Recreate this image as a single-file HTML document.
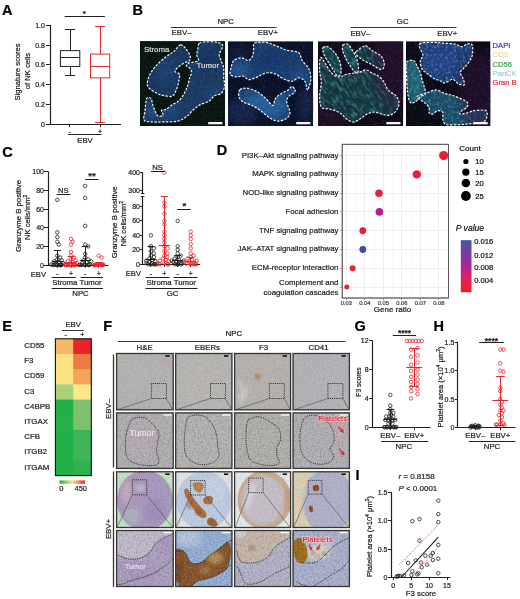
<!DOCTYPE html>
<html><head><meta charset="utf-8"><style>
html,body{margin:0;padding:0;background:#fff;width:520px;height:599px;overflow:hidden}
svg{display:block;font-family:'Liberation Sans', Arial, sans-serif}
</style></head><body>
<svg width="520" height="599" viewBox="0 0 520 599">
<text x="2.00" y="14.60" font-size="14.5" text-anchor="start" fill="#000" stroke="#000" stroke-width="0.22" font-weight="bold" >A</text>
<line x1="50.50" y1="24.90" x2="50.50" y2="124.80" stroke="#231f20" stroke-width="1.2" />
<line x1="49.90" y1="124.50" x2="121.00" y2="124.50" stroke="#231f20" stroke-width="1.2" />
<line x1="46.00" y1="25.50" x2="50.50" y2="25.50" stroke="#231f20" stroke-width="1" />
<text x="44.90" y="27.90" font-size="7" text-anchor="end" fill="#231f20" stroke="#231f20" stroke-width="0.22" >1.0</text>
<line x1="46.00" y1="45.50" x2="50.50" y2="45.50" stroke="#231f20" stroke-width="1" />
<text x="44.90" y="47.68" font-size="7" text-anchor="end" fill="#231f20" stroke="#231f20" stroke-width="0.22" >0.8</text>
<line x1="46.00" y1="64.50" x2="50.50" y2="64.50" stroke="#231f20" stroke-width="1" />
<text x="44.90" y="67.46" font-size="7" text-anchor="end" fill="#231f20" stroke="#231f20" stroke-width="0.22" >0.6</text>
<line x1="46.00" y1="84.50" x2="50.50" y2="84.50" stroke="#231f20" stroke-width="1" />
<text x="44.90" y="87.24" font-size="7" text-anchor="end" fill="#231f20" stroke="#231f20" stroke-width="0.22" >0.4</text>
<line x1="46.00" y1="104.50" x2="50.50" y2="104.50" stroke="#231f20" stroke-width="1" />
<text x="44.90" y="107.02" font-size="7" text-anchor="end" fill="#231f20" stroke="#231f20" stroke-width="0.22" >0.2</text>
<line x1="46.00" y1="124.50" x2="50.50" y2="124.50" stroke="#231f20" stroke-width="1" />
<text x="44.90" y="126.80" font-size="7" text-anchor="end" fill="#231f20" stroke="#231f20" stroke-width="0.22" >0</text>
<line x1="69.50" y1="124.30" x2="69.50" y2="127.30" stroke="#231f20" stroke-width="1" />
<line x1="100.50" y1="124.30" x2="100.50" y2="127.30" stroke="#231f20" stroke-width="1" />
<line x1="70.50" y1="29.85" x2="70.50" y2="50.62" stroke="#231f20" stroke-width="1" />
<line x1="70.50" y1="66.44" x2="70.50" y2="75.84" stroke="#231f20" stroke-width="1" />
<line x1="65.10" y1="29.50" x2="75.10" y2="29.50" stroke="#231f20" stroke-width="1" />
<line x1="65.10" y1="75.50" x2="75.10" y2="75.50" stroke="#231f20" stroke-width="1" />
<rect x="60.40" y="50.62" width="19.40" height="15.82" fill="none" stroke="#231f20" stroke-width="1" />
<line x1="60.40" y1="57.50" x2="79.80" y2="57.50" stroke="#231f20" stroke-width="1" />
<line x1="100.50" y1="26.88" x2="100.50" y2="54.08" stroke="#e6262e" stroke-width="1" />
<line x1="100.50" y1="77.82" x2="100.50" y2="122.32" stroke="#e6262e" stroke-width="1" />
<line x1="95.10" y1="26.50" x2="105.10" y2="26.50" stroke="#e6262e" stroke-width="1" />
<line x1="95.10" y1="122.50" x2="105.10" y2="122.50" stroke="#e6262e" stroke-width="1" />
<rect x="90.50" y="54.08" width="19.20" height="23.74" fill="none" stroke="#e6262e" stroke-width="1" />
<line x1="90.50" y1="66.50" x2="109.70" y2="66.50" stroke="#e6262e" stroke-width="1" />
<line x1="64.70" y1="16.50" x2="104.90" y2="16.50" stroke="#231f20" stroke-width="1" />
<text x="84.30" y="15.60" font-size="8" text-anchor="middle" fill="#231f20" stroke="#231f20" stroke-width="0.22" font-weight="bold" >*</text>
<text x="69.70" y="133.50" font-size="7" text-anchor="middle" fill="#231f20" stroke="#231f20" stroke-width="0.22" >-</text>
<text x="100.10" y="134.00" font-size="7" text-anchor="middle" fill="#231f20" stroke="#231f20" stroke-width="0.22" >+</text>
<line x1="68.00" y1="134.50" x2="101.50" y2="134.50" stroke="#231f20" stroke-width="1" />
<text x="85.00" y="142.60" font-size="7.8" text-anchor="middle" fill="#231f20" stroke="#231f20" stroke-width="0.22" >EBV</text>
<text transform="translate(20.20,72.00) rotate(-90)" font-size="7.6" text-anchor="middle" fill="#231f20" stroke="#231f20" stroke-width="0.22" >Signature scores</text>
<text transform="translate(29.80,71.00) rotate(-90)" font-size="7.6" text-anchor="middle" fill="#231f20" stroke="#231f20" stroke-width="0.22" >of NK cells</text>
<text x="2.30" y="156.60" font-size="14.5" text-anchor="start" fill="#000" stroke="#000" stroke-width="0.22" font-weight="bold" >C</text>
<line x1="48.50" y1="171.40" x2="48.50" y2="265.00" stroke="#231f20" stroke-width="1.2" />
<line x1="47.40" y1="265.50" x2="108.50" y2="265.50" stroke="#231f20" stroke-width="1.2" />
<line x1="44.00" y1="265.50" x2="48.00" y2="265.50" stroke="#231f20" stroke-width="1" />
<text x="44.00" y="267.50" font-size="7" text-anchor="end" fill="#231f20" stroke="#231f20" stroke-width="0.22" >0</text>
<line x1="44.00" y1="246.50" x2="48.00" y2="246.50" stroke="#231f20" stroke-width="1" />
<text x="44.00" y="248.88" font-size="7" text-anchor="end" fill="#231f20" stroke="#231f20" stroke-width="0.22" >20</text>
<line x1="44.00" y1="227.50" x2="48.00" y2="227.50" stroke="#231f20" stroke-width="1" />
<text x="44.00" y="230.26" font-size="7" text-anchor="end" fill="#231f20" stroke="#231f20" stroke-width="0.22" >40</text>
<line x1="44.00" y1="209.50" x2="48.00" y2="209.50" stroke="#231f20" stroke-width="1" />
<text x="44.00" y="211.64" font-size="7" text-anchor="end" fill="#231f20" stroke="#231f20" stroke-width="0.22" >60</text>
<line x1="44.00" y1="190.50" x2="48.00" y2="190.50" stroke="#231f20" stroke-width="1" />
<text x="44.00" y="193.02" font-size="7" text-anchor="end" fill="#231f20" stroke="#231f20" stroke-width="0.22" >80</text>
<line x1="44.00" y1="171.50" x2="48.00" y2="171.50" stroke="#231f20" stroke-width="1" />
<text x="44.00" y="174.40" font-size="7" text-anchor="end" fill="#231f20" stroke="#231f20" stroke-width="0.22" >100</text>
<line x1="57.50" y1="265.00" x2="57.50" y2="267.60" stroke="#231f20" stroke-width="1" />
<line x1="71.50" y1="265.00" x2="71.50" y2="267.60" stroke="#231f20" stroke-width="1" />
<line x1="85.50" y1="265.00" x2="85.50" y2="267.60" stroke="#231f20" stroke-width="1" />
<line x1="98.50" y1="265.00" x2="98.50" y2="267.60" stroke="#231f20" stroke-width="1" />
<circle cx="57.30" cy="199.83" r="1.75" fill="none" stroke="#231f20" stroke-width="0.8"/>
<circle cx="57.30" cy="232.41" r="1.75" fill="none" stroke="#231f20" stroke-width="0.8"/>
<circle cx="57.30" cy="237.07" r="1.75" fill="none" stroke="#231f20" stroke-width="0.8"/>
<circle cx="57.30" cy="241.72" r="1.75" fill="none" stroke="#231f20" stroke-width="0.8"/>
<circle cx="58.80" cy="244.52" r="1.75" fill="none" stroke="#231f20" stroke-width="0.8"/>
<circle cx="57.30" cy="255.69" r="1.75" fill="none" stroke="#231f20" stroke-width="0.8"/>
<circle cx="60.30" cy="257.55" r="1.75" fill="none" stroke="#231f20" stroke-width="0.8"/>
<circle cx="57.30" cy="259.41" r="1.75" fill="none" stroke="#231f20" stroke-width="0.8"/>
<circle cx="61.80" cy="260.35" r="1.75" fill="none" stroke="#231f20" stroke-width="0.8"/>
<circle cx="54.30" cy="261.28" r="1.75" fill="none" stroke="#231f20" stroke-width="0.8"/>
<circle cx="58.80" cy="262.21" r="1.75" fill="none" stroke="#231f20" stroke-width="0.8"/>
<circle cx="63.30" cy="263.14" r="1.75" fill="none" stroke="#231f20" stroke-width="0.8"/>
<circle cx="55.80" cy="264.07" r="1.75" fill="none" stroke="#231f20" stroke-width="0.8"/>
<circle cx="51.30" cy="264.53" r="1.75" fill="none" stroke="#231f20" stroke-width="0.8"/>
<circle cx="60.30" cy="265.00" r="1.75" fill="none" stroke="#231f20" stroke-width="0.8"/>
<circle cx="52.91" cy="265.00" r="1.75" fill="none" stroke="#231f20" stroke-width="0.8"/>
<circle cx="61.47" cy="265.00" r="1.75" fill="none" stroke="#231f20" stroke-width="0.8"/>
<circle cx="60.47" cy="265.00" r="1.75" fill="none" stroke="#231f20" stroke-width="0.8"/>
<circle cx="54.36" cy="265.00" r="1.75" fill="none" stroke="#231f20" stroke-width="0.8"/>
<circle cx="57.25" cy="265.00" r="1.75" fill="none" stroke="#231f20" stroke-width="0.8"/>
<circle cx="56.69" cy="265.00" r="1.75" fill="none" stroke="#231f20" stroke-width="0.8"/>
<circle cx="59.12" cy="265.00" r="1.75" fill="none" stroke="#231f20" stroke-width="0.8"/>
<circle cx="60.76" cy="265.00" r="1.75" fill="none" stroke="#231f20" stroke-width="0.8"/>
<circle cx="71.00" cy="238.93" r="1.75" fill="none" stroke="#e6262e" stroke-width="0.8"/>
<circle cx="72.50" cy="241.72" r="1.75" fill="none" stroke="#e6262e" stroke-width="0.8"/>
<circle cx="71.00" cy="244.52" r="1.75" fill="none" stroke="#e6262e" stroke-width="0.8"/>
<circle cx="71.00" cy="251.97" r="1.75" fill="none" stroke="#e6262e" stroke-width="0.8"/>
<circle cx="71.00" cy="255.69" r="1.75" fill="none" stroke="#e6262e" stroke-width="0.8"/>
<circle cx="74.00" cy="257.55" r="1.75" fill="none" stroke="#e6262e" stroke-width="0.8"/>
<circle cx="71.00" cy="259.41" r="1.75" fill="none" stroke="#e6262e" stroke-width="0.8"/>
<circle cx="75.50" cy="260.35" r="1.75" fill="none" stroke="#e6262e" stroke-width="0.8"/>
<circle cx="68.00" cy="261.28" r="1.75" fill="none" stroke="#e6262e" stroke-width="0.8"/>
<circle cx="72.50" cy="262.21" r="1.75" fill="none" stroke="#e6262e" stroke-width="0.8"/>
<circle cx="77.00" cy="263.14" r="1.75" fill="none" stroke="#e6262e" stroke-width="0.8"/>
<circle cx="69.50" cy="264.07" r="1.75" fill="none" stroke="#e6262e" stroke-width="0.8"/>
<circle cx="65.00" cy="264.07" r="1.75" fill="none" stroke="#e6262e" stroke-width="0.8"/>
<circle cx="66.61" cy="264.53" r="1.75" fill="none" stroke="#e6262e" stroke-width="0.8"/>
<circle cx="74.00" cy="265.00" r="1.75" fill="none" stroke="#e6262e" stroke-width="0.8"/>
<circle cx="75.17" cy="265.00" r="1.75" fill="none" stroke="#e6262e" stroke-width="0.8"/>
<circle cx="74.17" cy="265.00" r="1.75" fill="none" stroke="#e6262e" stroke-width="0.8"/>
<circle cx="68.06" cy="265.00" r="1.75" fill="none" stroke="#e6262e" stroke-width="0.8"/>
<circle cx="70.95" cy="265.00" r="1.75" fill="none" stroke="#e6262e" stroke-width="0.8"/>
<circle cx="70.39" cy="265.00" r="1.75" fill="none" stroke="#e6262e" stroke-width="0.8"/>
<circle cx="72.82" cy="265.00" r="1.75" fill="none" stroke="#e6262e" stroke-width="0.8"/>
<circle cx="74.46" cy="265.00" r="1.75" fill="none" stroke="#e6262e" stroke-width="0.8"/>
<circle cx="66.13" cy="265.00" r="1.75" fill="none" stroke="#e6262e" stroke-width="0.8"/>
<circle cx="65.34" cy="265.00" r="1.75" fill="none" stroke="#e6262e" stroke-width="0.8"/>
<circle cx="75.03" cy="265.00" r="1.75" fill="none" stroke="#e6262e" stroke-width="0.8"/>
<circle cx="70.19" cy="265.00" r="1.75" fill="none" stroke="#e6262e" stroke-width="0.8"/>
<circle cx="85.20" cy="185.87" r="1.75" fill="none" stroke="#231f20" stroke-width="0.8"/>
<circle cx="85.20" cy="197.97" r="1.75" fill="none" stroke="#231f20" stroke-width="0.8"/>
<circle cx="85.20" cy="225.90" r="1.75" fill="none" stroke="#231f20" stroke-width="0.8"/>
<circle cx="85.20" cy="244.52" r="1.75" fill="none" stroke="#231f20" stroke-width="0.8"/>
<circle cx="88.20" cy="246.38" r="1.75" fill="none" stroke="#231f20" stroke-width="0.8"/>
<circle cx="85.20" cy="253.83" r="1.75" fill="none" stroke="#231f20" stroke-width="0.8"/>
<circle cx="85.20" cy="257.55" r="1.75" fill="none" stroke="#231f20" stroke-width="0.8"/>
<circle cx="88.20" cy="259.41" r="1.75" fill="none" stroke="#231f20" stroke-width="0.8"/>
<circle cx="83.70" cy="260.35" r="1.75" fill="none" stroke="#231f20" stroke-width="0.8"/>
<circle cx="91.20" cy="261.28" r="1.75" fill="none" stroke="#231f20" stroke-width="0.8"/>
<circle cx="86.70" cy="262.21" r="1.75" fill="none" stroke="#231f20" stroke-width="0.8"/>
<circle cx="82.20" cy="263.14" r="1.75" fill="none" stroke="#231f20" stroke-width="0.8"/>
<circle cx="89.70" cy="264.07" r="1.75" fill="none" stroke="#231f20" stroke-width="0.8"/>
<circle cx="85.20" cy="265.00" r="1.75" fill="none" stroke="#231f20" stroke-width="0.8"/>
<circle cx="79.20" cy="265.00" r="1.75" fill="none" stroke="#231f20" stroke-width="0.8"/>
<circle cx="80.81" cy="265.00" r="1.75" fill="none" stroke="#231f20" stroke-width="0.8"/>
<circle cx="89.37" cy="265.00" r="1.75" fill="none" stroke="#231f20" stroke-width="0.8"/>
<circle cx="88.37" cy="265.00" r="1.75" fill="none" stroke="#231f20" stroke-width="0.8"/>
<circle cx="82.26" cy="265.00" r="1.75" fill="none" stroke="#231f20" stroke-width="0.8"/>
<circle cx="85.15" cy="265.00" r="1.75" fill="none" stroke="#231f20" stroke-width="0.8"/>
<circle cx="98.70" cy="255.69" r="1.75" fill="none" stroke="#e6262e" stroke-width="0.8"/>
<circle cx="101.70" cy="257.55" r="1.75" fill="none" stroke="#e6262e" stroke-width="0.8"/>
<circle cx="98.70" cy="264.07" r="1.75" fill="none" stroke="#e6262e" stroke-width="0.8"/>
<circle cx="103.20" cy="264.53" r="1.75" fill="none" stroke="#e6262e" stroke-width="0.8"/>
<circle cx="94.20" cy="265.00" r="1.75" fill="none" stroke="#e6262e" stroke-width="0.8"/>
<circle cx="94.31" cy="265.00" r="1.75" fill="none" stroke="#e6262e" stroke-width="0.8"/>
<circle cx="102.87" cy="265.00" r="1.75" fill="none" stroke="#e6262e" stroke-width="0.8"/>
<circle cx="101.87" cy="265.00" r="1.75" fill="none" stroke="#e6262e" stroke-width="0.8"/>
<circle cx="95.76" cy="265.00" r="1.75" fill="none" stroke="#e6262e" stroke-width="0.8"/>
<circle cx="98.65" cy="265.00" r="1.75" fill="none" stroke="#e6262e" stroke-width="0.8"/>
<circle cx="98.09" cy="265.00" r="1.75" fill="none" stroke="#e6262e" stroke-width="0.8"/>
<circle cx="100.52" cy="265.00" r="1.75" fill="none" stroke="#e6262e" stroke-width="0.8"/>
<circle cx="102.16" cy="265.00" r="1.75" fill="none" stroke="#e6262e" stroke-width="0.8"/>
<line x1="57.50" y1="250.10" x2="57.50" y2="265.00" stroke="#231f20" stroke-width="1" />
<line x1="51.80" y1="261.50" x2="62.80" y2="261.50" stroke="#231f20" stroke-width="1.1" />
<line x1="53.80" y1="250.50" x2="60.80" y2="250.50" stroke="#231f20" stroke-width="1" />
<line x1="53.80" y1="265.50" x2="60.80" y2="265.50" stroke="#231f20" stroke-width="1" />
<line x1="71.50" y1="256.62" x2="71.50" y2="265.00" stroke="#e6262e" stroke-width="1" />
<line x1="65.50" y1="262.50" x2="76.50" y2="262.50" stroke="#e6262e" stroke-width="1.1" />
<line x1="67.50" y1="256.50" x2="74.50" y2="256.50" stroke="#e6262e" stroke-width="1" />
<line x1="67.50" y1="265.50" x2="74.50" y2="265.50" stroke="#e6262e" stroke-width="1" />
<line x1="85.50" y1="246.38" x2="85.50" y2="265.00" stroke="#231f20" stroke-width="1" />
<line x1="79.70" y1="260.50" x2="90.70" y2="260.50" stroke="#231f20" stroke-width="1.1" />
<line x1="81.70" y1="246.50" x2="88.70" y2="246.50" stroke="#231f20" stroke-width="1" />
<line x1="81.70" y1="265.50" x2="88.70" y2="265.50" stroke="#231f20" stroke-width="1" />
<line x1="98.50" y1="262.21" x2="98.50" y2="265.00" stroke="#e6262e" stroke-width="1" />
<line x1="93.20" y1="264.50" x2="104.20" y2="264.50" stroke="#e6262e" stroke-width="1.1" />
<line x1="95.20" y1="262.50" x2="102.20" y2="262.50" stroke="#e6262e" stroke-width="1" />
<line x1="95.20" y1="265.50" x2="102.20" y2="265.50" stroke="#e6262e" stroke-width="1" />
<text x="63.20" y="192.70" font-size="7.6" text-anchor="middle" fill="#231f20" stroke="#231f20" stroke-width="0.22" >NS</text>
<line x1="56.70" y1="194.50" x2="70.50" y2="194.50" stroke="#231f20" stroke-width="1" />
<text x="91.90" y="178.60" font-size="9.5" text-anchor="middle" fill="#231f20" stroke="#231f20" stroke-width="0.22" font-weight="bold" >**</text>
<line x1="85.20" y1="179.50" x2="98.60" y2="179.50" stroke="#231f20" stroke-width="1" />
<text x="46.00" y="276.50" font-size="7.6" text-anchor="end" fill="#231f20" stroke="#231f20" stroke-width="0.22" >EBV</text>
<text x="57.30" y="276.00" font-size="7" text-anchor="middle" fill="#231f20" stroke="#231f20" stroke-width="0.22" >-</text>
<text x="71.00" y="276.00" font-size="7" text-anchor="middle" fill="#231f20" stroke="#231f20" stroke-width="0.22" >+</text>
<text x="85.20" y="276.00" font-size="7" text-anchor="middle" fill="#231f20" stroke="#231f20" stroke-width="0.22" >-</text>
<text x="98.70" y="276.00" font-size="7" text-anchor="middle" fill="#231f20" stroke="#231f20" stroke-width="0.22" >+</text>
<line x1="51.70" y1="277.50" x2="75.80" y2="277.50" stroke="#231f20" stroke-width="1" />
<line x1="80.60" y1="277.50" x2="103.00" y2="277.50" stroke="#231f20" stroke-width="1" />
<text x="52.30" y="285.30" font-size="7.8" text-anchor="start" fill="#231f20" stroke="#231f20" stroke-width="0.22" >Stroma Tumor</text>
<line x1="51.70" y1="288.50" x2="103.00" y2="288.50" stroke="#231f20" stroke-width="1" />
<text x="80.50" y="295.80" font-size="7.8" text-anchor="middle" fill="#231f20" stroke="#231f20" stroke-width="0.22" >NPC</text>
<text transform="translate(21.00,216.00) rotate(-90)" font-size="7.8" text-anchor="middle" fill="#231f20" stroke="#231f20" stroke-width="0.22" >Granzyme B positive</text>
<text transform="translate(30.20,217.30) rotate(-90)" font-size="7.6" text-anchor="middle" fill="#231f20" stroke="#231f20" stroke-width="0.22" >NK cells/mm<tspan font-size="5" dy="-3">2</tspan></text>
<line x1="142.50" y1="172.10" x2="142.50" y2="264.30" stroke="#231f20" stroke-width="1.2" />
<rect x="141.10" y="193.20" width="3.00" height="3.20" fill="#fff" stroke="none" stroke-width="1" />
<line x1="140.80" y1="193.50" x2="144.40" y2="193.50" stroke="#231f20" stroke-width="1" />
<line x1="140.80" y1="196.50" x2="144.40" y2="196.50" stroke="#231f20" stroke-width="1" />
<line x1="142.00" y1="264.50" x2="200.00" y2="264.50" stroke="#231f20" stroke-width="1.2" />
<line x1="140.10" y1="264.50" x2="142.60" y2="264.50" stroke="#231f20" stroke-width="1" />
<text x="140.00" y="266.80" font-size="7" text-anchor="end" fill="#231f20" stroke="#231f20" stroke-width="0.22" >0</text>
<line x1="140.10" y1="249.50" x2="142.60" y2="249.50" stroke="#231f20" stroke-width="1" />
<text x="140.00" y="252.33" font-size="7" text-anchor="end" fill="#231f20" stroke="#231f20" stroke-width="0.22" >20</text>
<line x1="140.10" y1="235.50" x2="142.60" y2="235.50" stroke="#231f20" stroke-width="1" />
<text x="140.00" y="237.85" font-size="7" text-anchor="end" fill="#231f20" stroke="#231f20" stroke-width="0.22" >40</text>
<line x1="140.10" y1="220.50" x2="142.60" y2="220.50" stroke="#231f20" stroke-width="1" />
<text x="140.00" y="223.38" font-size="7" text-anchor="end" fill="#231f20" stroke="#231f20" stroke-width="0.22" >60</text>
<line x1="140.10" y1="206.50" x2="142.60" y2="206.50" stroke="#231f20" stroke-width="1" />
<text x="140.00" y="208.90" font-size="7" text-anchor="end" fill="#231f20" stroke="#231f20" stroke-width="0.22" >80</text>
<line x1="140.10" y1="190.50" x2="142.60" y2="190.50" stroke="#231f20" stroke-width="1" />
<text x="140.00" y="192.50" font-size="7" text-anchor="end" fill="#231f20" stroke="#231f20" stroke-width="0.22" >300</text>
<line x1="140.10" y1="172.50" x2="142.60" y2="172.50" stroke="#231f20" stroke-width="1" />
<text x="140.00" y="175.10" font-size="7" text-anchor="end" fill="#231f20" stroke="#231f20" stroke-width="0.22" >400</text>
<line x1="150.50" y1="264.30" x2="150.50" y2="266.90" stroke="#231f20" stroke-width="1" />
<line x1="164.50" y1="264.30" x2="164.50" y2="266.90" stroke="#231f20" stroke-width="1" />
<line x1="177.50" y1="264.30" x2="177.50" y2="266.90" stroke="#231f20" stroke-width="1" />
<line x1="190.50" y1="264.30" x2="190.50" y2="266.90" stroke="#231f20" stroke-width="1" />
<circle cx="150.90" cy="235.35" r="1.75" fill="none" stroke="#231f20" stroke-width="0.8"/>
<circle cx="150.90" cy="246.21" r="1.75" fill="none" stroke="#231f20" stroke-width="0.8"/>
<circle cx="153.90" cy="248.38" r="1.75" fill="none" stroke="#231f20" stroke-width="0.8"/>
<circle cx="150.90" cy="251.27" r="1.75" fill="none" stroke="#231f20" stroke-width="0.8"/>
<circle cx="153.90" cy="253.44" r="1.75" fill="none" stroke="#231f20" stroke-width="0.8"/>
<circle cx="150.90" cy="255.62" r="1.75" fill="none" stroke="#231f20" stroke-width="0.8"/>
<circle cx="153.90" cy="257.06" r="1.75" fill="none" stroke="#231f20" stroke-width="0.8"/>
<circle cx="149.40" cy="258.51" r="1.75" fill="none" stroke="#231f20" stroke-width="0.8"/>
<circle cx="152.40" cy="259.96" r="1.75" fill="none" stroke="#231f20" stroke-width="0.8"/>
<circle cx="146.40" cy="260.68" r="1.75" fill="none" stroke="#231f20" stroke-width="0.8"/>
<circle cx="155.40" cy="261.41" r="1.75" fill="none" stroke="#231f20" stroke-width="0.8"/>
<circle cx="149.40" cy="262.13" r="1.75" fill="none" stroke="#231f20" stroke-width="0.8"/>
<circle cx="146.51" cy="262.85" r="1.75" fill="none" stroke="#231f20" stroke-width="0.8"/>
<circle cx="152.40" cy="263.58" r="1.75" fill="none" stroke="#231f20" stroke-width="0.8"/>
<circle cx="156.90" cy="264.30" r="1.75" fill="none" stroke="#231f20" stroke-width="0.8"/>
<circle cx="155.07" cy="264.30" r="1.75" fill="none" stroke="#231f20" stroke-width="0.8"/>
<circle cx="154.07" cy="264.30" r="1.75" fill="none" stroke="#231f20" stroke-width="0.8"/>
<circle cx="147.96" cy="264.30" r="1.75" fill="none" stroke="#231f20" stroke-width="0.8"/>
<circle cx="150.85" cy="264.30" r="1.75" fill="none" stroke="#231f20" stroke-width="0.8"/>
<circle cx="164.40" cy="172.60" r="1.75" fill="none" stroke="#e6262e" stroke-width="0.8"/>
<circle cx="164.40" cy="202.78" r="1.75" fill="none" stroke="#e6262e" stroke-width="0.8"/>
<circle cx="164.40" cy="206.40" r="1.75" fill="none" stroke="#e6262e" stroke-width="0.8"/>
<circle cx="164.40" cy="213.64" r="1.75" fill="none" stroke="#e6262e" stroke-width="0.8"/>
<circle cx="164.40" cy="220.88" r="1.75" fill="none" stroke="#e6262e" stroke-width="0.8"/>
<circle cx="164.40" cy="224.49" r="1.75" fill="none" stroke="#e6262e" stroke-width="0.8"/>
<circle cx="164.40" cy="231.73" r="1.75" fill="none" stroke="#e6262e" stroke-width="0.8"/>
<circle cx="164.40" cy="235.35" r="1.75" fill="none" stroke="#e6262e" stroke-width="0.8"/>
<circle cx="164.40" cy="238.97" r="1.75" fill="none" stroke="#e6262e" stroke-width="0.8"/>
<circle cx="164.40" cy="242.59" r="1.75" fill="none" stroke="#e6262e" stroke-width="0.8"/>
<circle cx="164.40" cy="246.21" r="1.75" fill="none" stroke="#e6262e" stroke-width="0.8"/>
<circle cx="167.40" cy="248.38" r="1.75" fill="none" stroke="#e6262e" stroke-width="0.8"/>
<circle cx="164.40" cy="251.27" r="1.75" fill="none" stroke="#e6262e" stroke-width="0.8"/>
<circle cx="167.40" cy="253.44" r="1.75" fill="none" stroke="#e6262e" stroke-width="0.8"/>
<circle cx="164.40" cy="255.62" r="1.75" fill="none" stroke="#e6262e" stroke-width="0.8"/>
<circle cx="167.40" cy="257.06" r="1.75" fill="none" stroke="#e6262e" stroke-width="0.8"/>
<circle cx="162.90" cy="258.51" r="1.75" fill="none" stroke="#e6262e" stroke-width="0.8"/>
<circle cx="165.90" cy="259.96" r="1.75" fill="none" stroke="#e6262e" stroke-width="0.8"/>
<circle cx="159.90" cy="260.68" r="1.75" fill="none" stroke="#e6262e" stroke-width="0.8"/>
<circle cx="168.90" cy="261.41" r="1.75" fill="none" stroke="#e6262e" stroke-width="0.8"/>
<circle cx="164.40" cy="262.85" r="1.75" fill="none" stroke="#e6262e" stroke-width="0.8"/>
<circle cx="158.40" cy="263.58" r="1.75" fill="none" stroke="#e6262e" stroke-width="0.8"/>
<circle cx="167.40" cy="264.30" r="1.75" fill="none" stroke="#e6262e" stroke-width="0.8"/>
<circle cx="160.01" cy="264.30" r="1.75" fill="none" stroke="#e6262e" stroke-width="0.8"/>
<circle cx="168.57" cy="264.30" r="1.75" fill="none" stroke="#e6262e" stroke-width="0.8"/>
<circle cx="177.70" cy="220.88" r="1.75" fill="none" stroke="#231f20" stroke-width="0.8"/>
<circle cx="177.70" cy="246.21" r="1.75" fill="none" stroke="#231f20" stroke-width="0.8"/>
<circle cx="177.70" cy="249.83" r="1.75" fill="none" stroke="#231f20" stroke-width="0.8"/>
<circle cx="177.70" cy="253.44" r="1.75" fill="none" stroke="#231f20" stroke-width="0.8"/>
<circle cx="180.70" cy="255.62" r="1.75" fill="none" stroke="#231f20" stroke-width="0.8"/>
<circle cx="177.70" cy="257.06" r="1.75" fill="none" stroke="#231f20" stroke-width="0.8"/>
<circle cx="174.70" cy="258.51" r="1.75" fill="none" stroke="#231f20" stroke-width="0.8"/>
<circle cx="179.20" cy="259.96" r="1.75" fill="none" stroke="#231f20" stroke-width="0.8"/>
<circle cx="183.70" cy="260.68" r="1.75" fill="none" stroke="#231f20" stroke-width="0.8"/>
<circle cx="171.70" cy="260.68" r="1.75" fill="none" stroke="#231f20" stroke-width="0.8"/>
<circle cx="176.20" cy="261.41" r="1.75" fill="none" stroke="#231f20" stroke-width="0.8"/>
<circle cx="173.31" cy="262.13" r="1.75" fill="none" stroke="#231f20" stroke-width="0.8"/>
<circle cx="180.70" cy="262.85" r="1.75" fill="none" stroke="#231f20" stroke-width="0.8"/>
<circle cx="181.87" cy="263.58" r="1.75" fill="none" stroke="#231f20" stroke-width="0.8"/>
<circle cx="177.70" cy="264.30" r="1.75" fill="none" stroke="#231f20" stroke-width="0.8"/>
<circle cx="180.87" cy="264.30" r="1.75" fill="none" stroke="#231f20" stroke-width="0.8"/>
<circle cx="174.76" cy="264.30" r="1.75" fill="none" stroke="#231f20" stroke-width="0.8"/>
<circle cx="177.65" cy="264.30" r="1.75" fill="none" stroke="#231f20" stroke-width="0.8"/>
<circle cx="190.70" cy="231.73" r="1.75" fill="none" stroke="#e6262e" stroke-width="0.8"/>
<circle cx="190.70" cy="235.35" r="1.75" fill="none" stroke="#e6262e" stroke-width="0.8"/>
<circle cx="190.70" cy="238.97" r="1.75" fill="none" stroke="#e6262e" stroke-width="0.8"/>
<circle cx="190.70" cy="244.03" r="1.75" fill="none" stroke="#e6262e" stroke-width="0.8"/>
<circle cx="190.70" cy="248.38" r="1.75" fill="none" stroke="#e6262e" stroke-width="0.8"/>
<circle cx="190.70" cy="253.44" r="1.75" fill="none" stroke="#e6262e" stroke-width="0.8"/>
<circle cx="193.70" cy="255.62" r="1.75" fill="none" stroke="#e6262e" stroke-width="0.8"/>
<circle cx="190.70" cy="257.06" r="1.75" fill="none" stroke="#e6262e" stroke-width="0.8"/>
<circle cx="187.70" cy="258.51" r="1.75" fill="none" stroke="#e6262e" stroke-width="0.8"/>
<circle cx="192.20" cy="259.96" r="1.75" fill="none" stroke="#e6262e" stroke-width="0.8"/>
<circle cx="196.70" cy="260.68" r="1.75" fill="none" stroke="#e6262e" stroke-width="0.8"/>
<circle cx="189.20" cy="261.41" r="1.75" fill="none" stroke="#e6262e" stroke-width="0.8"/>
<circle cx="184.70" cy="262.13" r="1.75" fill="none" stroke="#e6262e" stroke-width="0.8"/>
<circle cx="193.70" cy="262.85" r="1.75" fill="none" stroke="#e6262e" stroke-width="0.8"/>
<circle cx="186.31" cy="263.58" r="1.75" fill="none" stroke="#e6262e" stroke-width="0.8"/>
<circle cx="190.70" cy="264.30" r="1.75" fill="none" stroke="#e6262e" stroke-width="0.8"/>
<circle cx="196.70" cy="264.30" r="1.75" fill="none" stroke="#e6262e" stroke-width="0.8"/>
<circle cx="194.87" cy="264.30" r="1.75" fill="none" stroke="#e6262e" stroke-width="0.8"/>
<circle cx="193.87" cy="264.30" r="1.75" fill="none" stroke="#e6262e" stroke-width="0.8"/>
<line x1="150.50" y1="246.93" x2="150.50" y2="264.30" stroke="#231f20" stroke-width="1" />
<line x1="145.40" y1="259.50" x2="156.40" y2="259.50" stroke="#231f20" stroke-width="1.1" />
<line x1="147.40" y1="246.50" x2="154.40" y2="246.50" stroke="#231f20" stroke-width="1" />
<line x1="147.40" y1="264.50" x2="154.40" y2="264.50" stroke="#231f20" stroke-width="1" />
<line x1="164.50" y1="264.30" x2="164.50" y2="196.50" stroke="#e6262e" stroke-width="1" />
<line x1="158.90" y1="245.50" x2="169.90" y2="245.50" stroke="#e6262e" stroke-width="1.1" />
<line x1="160.90" y1="196.50" x2="167.90" y2="196.50" stroke="#e6262e" stroke-width="1" />
<line x1="177.50" y1="255.62" x2="177.50" y2="264.30" stroke="#231f20" stroke-width="1" />
<line x1="172.20" y1="260.50" x2="183.20" y2="260.50" stroke="#231f20" stroke-width="1.1" />
<line x1="174.20" y1="255.50" x2="181.20" y2="255.50" stroke="#231f20" stroke-width="1" />
<line x1="174.20" y1="264.50" x2="181.20" y2="264.50" stroke="#231f20" stroke-width="1" />
<line x1="190.50" y1="257.06" x2="190.50" y2="264.30" stroke="#e6262e" stroke-width="1" />
<line x1="185.20" y1="261.50" x2="196.20" y2="261.50" stroke="#e6262e" stroke-width="1.1" />
<line x1="187.20" y1="257.50" x2="194.20" y2="257.50" stroke="#e6262e" stroke-width="1" />
<line x1="187.20" y1="264.50" x2="194.20" y2="264.50" stroke="#e6262e" stroke-width="1" />
<text x="157.60" y="169.50" font-size="7.6" text-anchor="middle" fill="#231f20" stroke="#231f20" stroke-width="0.22" >NS</text>
<line x1="151.00" y1="171.50" x2="165.00" y2="171.50" stroke="#231f20" stroke-width="1" />
<text x="184.30" y="208.60" font-size="9.5" text-anchor="middle" fill="#231f20" stroke="#231f20" stroke-width="0.22" font-weight="bold" >*</text>
<line x1="177.00" y1="209.50" x2="190.70" y2="209.50" stroke="#231f20" stroke-width="1" />
<text x="141.00" y="276.30" font-size="7.6" text-anchor="end" fill="#231f20" stroke="#231f20" stroke-width="0.22" >EBV</text>
<text x="150.90" y="275.50" font-size="7" text-anchor="middle" fill="#231f20" stroke="#231f20" stroke-width="0.22" >-</text>
<text x="164.40" y="275.50" font-size="7" text-anchor="middle" fill="#231f20" stroke="#231f20" stroke-width="0.22" >+</text>
<text x="177.70" y="275.50" font-size="7" text-anchor="middle" fill="#231f20" stroke="#231f20" stroke-width="0.22" >-</text>
<text x="190.70" y="275.50" font-size="7" text-anchor="middle" fill="#231f20" stroke="#231f20" stroke-width="0.22" >+</text>
<line x1="145.50" y1="277.50" x2="169.50" y2="277.50" stroke="#231f20" stroke-width="1" />
<line x1="173.50" y1="277.50" x2="197.50" y2="277.50" stroke="#231f20" stroke-width="1" />
<text x="146.50" y="285.30" font-size="7.8" text-anchor="start" fill="#231f20" stroke="#231f20" stroke-width="0.22" >Stroma Tumor</text>
<line x1="145.50" y1="288.50" x2="197.50" y2="288.50" stroke="#231f20" stroke-width="1" />
<text x="172.50" y="295.80" font-size="7.8" text-anchor="middle" fill="#231f20" stroke="#231f20" stroke-width="0.22" >GC</text>
<text transform="translate(117.20,222.30) rotate(-90)" font-size="7.8" text-anchor="middle" fill="#231f20" stroke="#231f20" stroke-width="0.22" >Granzyme B positive</text>
<text transform="translate(126.40,223.60) rotate(-90)" font-size="7.6" text-anchor="middle" fill="#231f20" stroke="#231f20" stroke-width="0.22" >NK cells/mm<tspan font-size="5" dy="-3">2</tspan></text>
<text x="216.80" y="155.20" font-size="14.5" text-anchor="start" fill="#000" stroke="#000" stroke-width="0.22" font-weight="bold" >D</text>
<rect x="342.20" y="144.30" width="106.30" height="153.70" fill="#fff" stroke="#555" stroke-width="0.8" />
<line x1="346.50" y1="144.30" x2="346.50" y2="298.00" stroke="#e4e4e4" stroke-width="0.6" />
<line x1="364.50" y1="144.30" x2="364.50" y2="298.00" stroke="#e4e4e4" stroke-width="0.6" />
<line x1="383.50" y1="144.30" x2="383.50" y2="298.00" stroke="#e4e4e4" stroke-width="0.6" />
<line x1="401.50" y1="144.30" x2="401.50" y2="298.00" stroke="#e4e4e4" stroke-width="0.6" />
<line x1="420.50" y1="144.30" x2="420.50" y2="298.00" stroke="#e4e4e4" stroke-width="0.6" />
<line x1="438.50" y1="144.30" x2="438.50" y2="298.00" stroke="#e4e4e4" stroke-width="0.6" />
<line x1="355.50" y1="144.30" x2="355.50" y2="298.00" stroke="#f0f0f0" stroke-width="0.4" />
<line x1="374.50" y1="144.30" x2="374.50" y2="298.00" stroke="#f0f0f0" stroke-width="0.4" />
<line x1="392.50" y1="144.30" x2="392.50" y2="298.00" stroke="#f0f0f0" stroke-width="0.4" />
<line x1="411.50" y1="144.30" x2="411.50" y2="298.00" stroke="#f0f0f0" stroke-width="0.4" />
<line x1="429.50" y1="144.30" x2="429.50" y2="298.00" stroke="#f0f0f0" stroke-width="0.4" />
<line x1="342.20" y1="155.50" x2="448.50" y2="155.50" stroke="#e4e4e4" stroke-width="0.6" />
<line x1="342.20" y1="174.50" x2="448.50" y2="174.50" stroke="#e4e4e4" stroke-width="0.6" />
<line x1="342.20" y1="193.50" x2="448.50" y2="193.50" stroke="#e4e4e4" stroke-width="0.6" />
<line x1="342.20" y1="211.50" x2="448.50" y2="211.50" stroke="#e4e4e4" stroke-width="0.6" />
<line x1="342.20" y1="230.50" x2="448.50" y2="230.50" stroke="#e4e4e4" stroke-width="0.6" />
<line x1="342.20" y1="249.50" x2="448.50" y2="249.50" stroke="#e4e4e4" stroke-width="0.6" />
<line x1="342.20" y1="268.50" x2="448.50" y2="268.50" stroke="#e4e4e4" stroke-width="0.6" />
<line x1="342.20" y1="287.50" x2="448.50" y2="287.50" stroke="#e4e4e4" stroke-width="0.6" />
<rect x="342.20" y="144.30" width="106.30" height="153.70" fill="none" stroke="#555" stroke-width="0.8" />
<text x="338.40" y="157.50" font-size="7.8" text-anchor="end" fill="#262626" stroke="#262626" stroke-width="0.22" >PI3K–Akt signaling pathway</text>
<line x1="340.20" y1="155.50" x2="342.20" y2="155.50" stroke="#555" stroke-width="0.6" />
<text x="338.40" y="176.30" font-size="7.8" text-anchor="end" fill="#262626" stroke="#262626" stroke-width="0.22" >MAPK signaling pathway</text>
<line x1="340.20" y1="174.50" x2="342.20" y2="174.50" stroke="#555" stroke-width="0.6" />
<text x="338.40" y="195.10" font-size="7.8" text-anchor="end" fill="#262626" stroke="#262626" stroke-width="0.22" >NOD-like signaling pathway</text>
<line x1="340.20" y1="193.50" x2="342.20" y2="193.50" stroke="#555" stroke-width="0.6" />
<text x="338.40" y="213.80" font-size="7.8" text-anchor="end" fill="#262626" stroke="#262626" stroke-width="0.22" >Focal adhesion</text>
<line x1="340.20" y1="211.50" x2="342.20" y2="211.50" stroke="#555" stroke-width="0.6" />
<text x="338.40" y="232.60" font-size="7.8" text-anchor="end" fill="#262626" stroke="#262626" stroke-width="0.22" >TNF signaling pathway</text>
<line x1="340.20" y1="230.50" x2="342.20" y2="230.50" stroke="#555" stroke-width="0.6" />
<text x="338.40" y="251.40" font-size="7.8" text-anchor="end" fill="#262626" stroke="#262626" stroke-width="0.22" >JAK–ATAT signaling pathway</text>
<line x1="340.20" y1="249.50" x2="342.20" y2="249.50" stroke="#555" stroke-width="0.6" />
<text x="338.40" y="270.10" font-size="7.8" text-anchor="end" fill="#262626" stroke="#262626" stroke-width="0.22" >ECM-receptor interaction</text>
<line x1="340.20" y1="268.50" x2="342.20" y2="268.50" stroke="#555" stroke-width="0.6" />
<text x="338.40" y="285.30" font-size="7.8" text-anchor="end" fill="#262626" stroke="#262626" stroke-width="0.22" >Complement and</text>
<text x="338.40" y="295.00" font-size="7.8" text-anchor="end" fill="#262626" stroke="#262626" stroke-width="0.22" >coagulation cascades</text>
<line x1="340.20" y1="287.50" x2="342.20" y2="287.50" stroke="#555" stroke-width="0.6" />
<line x1="346.50" y1="298.00" x2="346.50" y2="300.00" stroke="#555" stroke-width="0.6" />
<text x="346.30" y="304.60" font-size="5.8" text-anchor="middle" fill="#444" stroke="#444" stroke-width="0.22" >0.03</text>
<line x1="364.50" y1="298.00" x2="364.50" y2="300.00" stroke="#555" stroke-width="0.6" />
<text x="364.80" y="304.60" font-size="5.8" text-anchor="middle" fill="#444" stroke="#444" stroke-width="0.22" >0.04</text>
<line x1="383.50" y1="298.00" x2="383.50" y2="300.00" stroke="#555" stroke-width="0.6" />
<text x="383.30" y="304.60" font-size="5.8" text-anchor="middle" fill="#444" stroke="#444" stroke-width="0.22" >0.05</text>
<line x1="401.50" y1="298.00" x2="401.50" y2="300.00" stroke="#555" stroke-width="0.6" />
<text x="401.80" y="304.60" font-size="5.8" text-anchor="middle" fill="#444" stroke="#444" stroke-width="0.22" >0.06</text>
<line x1="420.50" y1="298.00" x2="420.50" y2="300.00" stroke="#555" stroke-width="0.6" />
<text x="420.30" y="304.60" font-size="5.8" text-anchor="middle" fill="#444" stroke="#444" stroke-width="0.22" >0.07</text>
<line x1="438.50" y1="298.00" x2="438.50" y2="300.00" stroke="#555" stroke-width="0.6" />
<text x="438.80" y="304.60" font-size="5.8" text-anchor="middle" fill="#444" stroke="#444" stroke-width="0.22" >0.08</text>
<text x="392.50" y="311.80" font-size="8" text-anchor="middle" fill="#222" stroke="#222" stroke-width="0.22" >Gene ratio</text>
<circle cx="443.70" cy="155.60" r="4.60" fill="#e8202c" stroke="none" stroke-width="0.8"/>
<circle cx="416.80" cy="174.40" r="4.20" fill="#e5203a" stroke="none" stroke-width="0.8"/>
<circle cx="379.00" cy="193.20" r="3.80" fill="#e0204a" stroke="none" stroke-width="0.8"/>
<circle cx="379.40" cy="211.90" r="3.80" fill="#b81f93" stroke="none" stroke-width="0.8"/>
<circle cx="362.80" cy="230.70" r="3.40" fill="#e3213a" stroke="none" stroke-width="0.8"/>
<circle cx="362.80" cy="249.50" r="3.40" fill="#3c4aa5" stroke="none" stroke-width="0.8"/>
<circle cx="352.60" cy="268.20" r="3.00" fill="#e8222e" stroke="none" stroke-width="0.8"/>
<circle cx="346.80" cy="287.00" r="2.50" fill="#e8222e" stroke="none" stroke-width="0.8"/>
<text x="459.30" y="150.80" font-size="8" text-anchor="start" fill="#111" stroke="#111" stroke-width="0.22" >Count</text>
<circle cx="465.90" cy="161.50" r="2.60" fill="#000" stroke="none" stroke-width="0.8"/>
<text x="475.30" y="164.10" font-size="7.6" text-anchor="start" fill="#111" stroke="#111" stroke-width="0.22" >10</text>
<circle cx="465.90" cy="172.20" r="3.60" fill="#000" stroke="none" stroke-width="0.8"/>
<text x="475.30" y="174.80" font-size="7.6" text-anchor="start" fill="#111" stroke="#111" stroke-width="0.22" >15</text>
<circle cx="465.90" cy="183.00" r="4.30" fill="#000" stroke="none" stroke-width="0.8"/>
<text x="475.30" y="185.60" font-size="7.6" text-anchor="start" fill="#111" stroke="#111" stroke-width="0.22" >20</text>
<circle cx="465.90" cy="196.00" r="4.90" fill="#000" stroke="none" stroke-width="0.8"/>
<text x="475.30" y="198.60" font-size="7.6" text-anchor="start" fill="#111" stroke="#111" stroke-width="0.22" >25</text>
<defs><linearGradient id="pv" x1="0" y1="0" x2="0" y2="1"><stop offset="0" stop-color="#4455a6"/><stop offset="0.45" stop-color="#a4279a"/><stop offset="0.75" stop-color="#e0205a"/><stop offset="1" stop-color="#ec2027"/></linearGradient><linearGradient id="hm" x1="0" y1="0" x2="1" y2="0"><stop offset="0" stop-color="#1fad4b"/><stop offset="0.5" stop-color="#fde385"/><stop offset="1" stop-color="#e8232a"/></linearGradient></defs>
<text x="455.80" y="230.80" font-size="8.6" text-anchor="start" fill="#111" stroke="#111" stroke-width="0.22" font-style="italic" >P value</text>
<rect x="460.80" y="240.20" width="10.70" height="52.00" fill="url(#pv)" stroke="none" stroke-width="1" />
<text x="474.20" y="243.90" font-size="7.6" text-anchor="start" fill="#111" stroke="#111" stroke-width="0.22" >0.016</text>
<text x="474.20" y="257.60" font-size="7.6" text-anchor="start" fill="#111" stroke="#111" stroke-width="0.22" >0.012</text>
<text x="474.20" y="270.30" font-size="7.6" text-anchor="start" fill="#111" stroke="#111" stroke-width="0.22" >0.008</text>
<text x="474.20" y="283.10" font-size="7.6" text-anchor="start" fill="#111" stroke="#111" stroke-width="0.22" >0.004</text>
<text x="2.20" y="331.00" font-size="14.5" text-anchor="start" fill="#000" stroke="#000" stroke-width="0.22" font-weight="bold" >E</text>
<text x="73.20" y="326.90" font-size="7.8" text-anchor="middle" fill="#231f20" stroke="#231f20" stroke-width="0.22" >EBV</text>
<line x1="62.00" y1="330.50" x2="83.80" y2="330.50" stroke="#231f20" stroke-width="0.9" />
<text x="65.60" y="337.00" font-size="7" text-anchor="middle" fill="#231f20" stroke="#231f20" stroke-width="0.22" >-</text>
<text x="82.40" y="337.20" font-size="7" text-anchor="middle" fill="#231f20" stroke="#231f20" stroke-width="0.22" >+</text>
<rect x="55.40" y="338.80" width="18.80" height="16.20" fill="#f8b86a" stroke="none" stroke-width="1" />
<rect x="73.20" y="338.80" width="18.10" height="16.20" fill="#e8232a" stroke="none" stroke-width="1" />
<text x="24.30" y="347.90" font-size="7.9" text-anchor="start" fill="#231f20" stroke="#231f20" stroke-width="0.22" >CD55</text>
<rect x="55.40" y="354.00" width="18.80" height="16.20" fill="#fde284" stroke="none" stroke-width="1" />
<rect x="73.20" y="354.00" width="18.10" height="16.20" fill="#ef7a41" stroke="none" stroke-width="1" />
<text x="24.30" y="363.10" font-size="7.9" text-anchor="start" fill="#231f20" stroke="#231f20" stroke-width="0.22" >F3</text>
<rect x="55.40" y="369.20" width="18.80" height="16.20" fill="#fde284" stroke="none" stroke-width="1" />
<rect x="73.20" y="369.20" width="18.10" height="16.20" fill="#f5a45a" stroke="none" stroke-width="1" />
<text x="24.30" y="378.30" font-size="7.9" text-anchor="start" fill="#231f20" stroke="#231f20" stroke-width="0.22" >CD59</text>
<rect x="55.40" y="384.40" width="18.80" height="16.20" fill="#a9d17b" stroke="none" stroke-width="1" />
<rect x="73.20" y="384.40" width="18.10" height="16.20" fill="#fde789" stroke="none" stroke-width="1" />
<text x="24.30" y="393.50" font-size="7.9" text-anchor="start" fill="#231f20" stroke="#231f20" stroke-width="0.22" >C3</text>
<rect x="55.40" y="399.60" width="18.80" height="16.20" fill="#22b04b" stroke="none" stroke-width="1" />
<rect x="73.20" y="399.60" width="18.10" height="16.20" fill="#7dc36e" stroke="none" stroke-width="1" />
<text x="24.30" y="408.70" font-size="7.9" text-anchor="start" fill="#231f20" stroke="#231f20" stroke-width="0.22" >C4BPB</text>
<rect x="55.40" y="414.80" width="18.80" height="16.20" fill="#24b04b" stroke="none" stroke-width="1" />
<rect x="73.20" y="414.80" width="18.10" height="16.20" fill="#7cc26d" stroke="none" stroke-width="1" />
<text x="24.30" y="423.90" font-size="7.9" text-anchor="start" fill="#231f20" stroke="#231f20" stroke-width="0.22" >ITGAX</text>
<rect x="55.40" y="430.00" width="18.80" height="16.20" fill="#22b04b" stroke="none" stroke-width="1" />
<rect x="73.20" y="430.00" width="18.10" height="16.20" fill="#3db556" stroke="none" stroke-width="1" />
<text x="24.30" y="439.10" font-size="7.9" text-anchor="start" fill="#231f20" stroke="#231f20" stroke-width="0.22" >CFB</text>
<rect x="55.40" y="445.20" width="18.80" height="16.20" fill="#22b04b" stroke="none" stroke-width="1" />
<rect x="73.20" y="445.20" width="18.10" height="16.20" fill="#40b556" stroke="none" stroke-width="1" />
<text x="24.30" y="454.30" font-size="7.9" text-anchor="start" fill="#231f20" stroke="#231f20" stroke-width="0.22" >ITGB2</text>
<rect x="55.40" y="460.40" width="18.80" height="15.20" fill="#22b04b" stroke="none" stroke-width="1" />
<rect x="73.20" y="460.40" width="18.10" height="15.20" fill="#2eb250" stroke="none" stroke-width="1" />
<text x="24.30" y="469.50" font-size="7.9" text-anchor="start" fill="#231f20" stroke="#231f20" stroke-width="0.22" >ITGAM</text>
<rect x="55.40" y="338.80" width="35.90" height="136.80" fill="none" stroke="#111" stroke-width="1.1" />
<rect x="59.60" y="480.40" width="25.40" height="3.40" fill="url(#hm)" stroke="none" stroke-width="1" />
<text x="61.30" y="491.30" font-size="7.5" text-anchor="middle" fill="#231f20" stroke="#231f20" stroke-width="0.22" >0</text>
<text x="80.80" y="491.30" font-size="7.5" text-anchor="middle" fill="#231f20" stroke="#231f20" stroke-width="0.22" >450</text>
<text x="354.50" y="330.50" font-size="14.5" text-anchor="start" fill="#000" stroke="#000" stroke-width="0.22" font-weight="bold" >G</text>
<line x1="372.50" y1="340.40" x2="372.50" y2="427.20" stroke="#231f20" stroke-width="1.2" />
<line x1="371.60" y1="427.50" x2="430.50" y2="427.50" stroke="#231f20" stroke-width="1.2" />
<line x1="369.20" y1="427.50" x2="372.20" y2="427.50" stroke="#231f20" stroke-width="1" />
<text x="368.60" y="429.70" font-size="7" text-anchor="end" fill="#231f20" stroke="#231f20" stroke-width="0.22" >0</text>
<line x1="369.20" y1="398.50" x2="372.20" y2="398.50" stroke="#231f20" stroke-width="1" />
<text x="368.60" y="400.93" font-size="7" text-anchor="end" fill="#231f20" stroke="#231f20" stroke-width="0.22" >4</text>
<line x1="369.20" y1="369.50" x2="372.20" y2="369.50" stroke="#231f20" stroke-width="1" />
<text x="368.60" y="372.17" font-size="7" text-anchor="end" fill="#231f20" stroke="#231f20" stroke-width="0.22" >8</text>
<line x1="369.20" y1="340.50" x2="372.20" y2="340.50" stroke="#231f20" stroke-width="1" />
<text x="368.60" y="343.40" font-size="7" text-anchor="end" fill="#231f20" stroke="#231f20" stroke-width="0.22" >12</text>
<line x1="390.50" y1="427.20" x2="390.50" y2="429.80" stroke="#231f20" stroke-width="1" />
<line x1="414.50" y1="427.20" x2="414.50" y2="429.80" stroke="#231f20" stroke-width="1" />
<circle cx="390.30" cy="394.84" r="1.75" fill="none" stroke="#231f20" stroke-width="0.8"/>
<circle cx="390.30" cy="405.62" r="1.75" fill="none" stroke="#231f20" stroke-width="0.8"/>
<circle cx="390.30" cy="409.22" r="1.75" fill="none" stroke="#231f20" stroke-width="0.8"/>
<circle cx="390.30" cy="412.82" r="1.75" fill="none" stroke="#231f20" stroke-width="0.8"/>
<circle cx="393.30" cy="412.82" r="1.75" fill="none" stroke="#231f20" stroke-width="0.8"/>
<circle cx="391.30" cy="414.97" r="1.75" fill="none" stroke="#231f20" stroke-width="0.8"/>
<circle cx="389.30" cy="416.41" r="1.75" fill="none" stroke="#231f20" stroke-width="0.8"/>
<circle cx="393.30" cy="416.41" r="1.75" fill="none" stroke="#231f20" stroke-width="0.8"/>
<circle cx="386.30" cy="416.41" r="1.75" fill="none" stroke="#231f20" stroke-width="0.8"/>
<circle cx="390.30" cy="418.57" r="1.75" fill="none" stroke="#231f20" stroke-width="0.8"/>
<circle cx="392.30" cy="420.01" r="1.75" fill="none" stroke="#231f20" stroke-width="0.8"/>
<circle cx="388.30" cy="420.01" r="1.75" fill="none" stroke="#231f20" stroke-width="0.8"/>
<circle cx="395.30" cy="420.01" r="1.75" fill="none" stroke="#231f20" stroke-width="0.8"/>
<circle cx="385.30" cy="420.01" r="1.75" fill="none" stroke="#231f20" stroke-width="0.8"/>
<circle cx="390.30" cy="422.17" r="1.75" fill="none" stroke="#231f20" stroke-width="0.8"/>
<circle cx="392.30" cy="423.60" r="1.75" fill="none" stroke="#231f20" stroke-width="0.8"/>
<circle cx="388.30" cy="423.60" r="1.75" fill="none" stroke="#231f20" stroke-width="0.8"/>
<circle cx="390.30" cy="427.20" r="1.75" fill="none" stroke="#231f20" stroke-width="0.8"/>
<circle cx="393.30" cy="427.20" r="1.75" fill="none" stroke="#231f20" stroke-width="0.8"/>
<circle cx="387.30" cy="427.20" r="1.75" fill="none" stroke="#231f20" stroke-width="0.8"/>
<circle cx="396.30" cy="427.20" r="1.75" fill="none" stroke="#231f20" stroke-width="0.8"/>
<circle cx="384.30" cy="427.20" r="1.75" fill="none" stroke="#231f20" stroke-width="0.8"/>
<circle cx="384.82" cy="427.20" r="1.75" fill="none" stroke="#231f20" stroke-width="0.8"/>
<circle cx="395.51" cy="427.20" r="1.75" fill="none" stroke="#231f20" stroke-width="0.8"/>
<circle cx="394.26" cy="427.20" r="1.75" fill="none" stroke="#231f20" stroke-width="0.8"/>
<circle cx="386.63" cy="427.20" r="1.75" fill="none" stroke="#231f20" stroke-width="0.8"/>
<circle cx="390.23" cy="427.20" r="1.75" fill="none" stroke="#231f20" stroke-width="0.8"/>
<circle cx="417.50" cy="348.09" r="1.75" fill="none" stroke="#e6262e" stroke-width="0.8"/>
<circle cx="411.10" cy="349.53" r="1.75" fill="none" stroke="#e6262e" stroke-width="0.8"/>
<circle cx="417.50" cy="355.28" r="1.75" fill="none" stroke="#e6262e" stroke-width="0.8"/>
<circle cx="411.10" cy="356.72" r="1.75" fill="none" stroke="#e6262e" stroke-width="0.8"/>
<circle cx="417.50" cy="362.47" r="1.75" fill="none" stroke="#e6262e" stroke-width="0.8"/>
<circle cx="411.10" cy="364.63" r="1.75" fill="none" stroke="#e6262e" stroke-width="0.8"/>
<circle cx="417.50" cy="369.67" r="1.75" fill="none" stroke="#e6262e" stroke-width="0.8"/>
<circle cx="411.10" cy="371.10" r="1.75" fill="none" stroke="#e6262e" stroke-width="0.8"/>
<circle cx="417.50" cy="374.70" r="1.75" fill="none" stroke="#e6262e" stroke-width="0.8"/>
<circle cx="411.10" cy="376.86" r="1.75" fill="none" stroke="#e6262e" stroke-width="0.8"/>
<circle cx="417.50" cy="379.74" r="1.75" fill="none" stroke="#e6262e" stroke-width="0.8"/>
<circle cx="411.10" cy="381.89" r="1.75" fill="none" stroke="#e6262e" stroke-width="0.8"/>
<circle cx="417.50" cy="384.05" r="1.75" fill="none" stroke="#e6262e" stroke-width="0.8"/>
<circle cx="411.10" cy="386.93" r="1.75" fill="none" stroke="#e6262e" stroke-width="0.8"/>
<circle cx="417.50" cy="389.08" r="1.75" fill="none" stroke="#e6262e" stroke-width="0.8"/>
<circle cx="411.10" cy="391.24" r="1.75" fill="none" stroke="#e6262e" stroke-width="0.8"/>
<circle cx="417.50" cy="394.12" r="1.75" fill="none" stroke="#e6262e" stroke-width="0.8"/>
<circle cx="411.10" cy="398.43" r="1.75" fill="none" stroke="#e6262e" stroke-width="0.8"/>
<circle cx="406.80" cy="340.90" r="1.75" fill="none" stroke="#e6262e" stroke-width="0.8"/>
<circle cx="409.80" cy="340.90" r="1.75" fill="none" stroke="#e6262e" stroke-width="0.8"/>
<circle cx="412.80" cy="340.90" r="1.75" fill="none" stroke="#e6262e" stroke-width="0.8"/>
<circle cx="415.80" cy="340.90" r="1.75" fill="none" stroke="#e6262e" stroke-width="0.8"/>
<circle cx="418.80" cy="340.90" r="1.75" fill="none" stroke="#e6262e" stroke-width="0.8"/>
<circle cx="421.80" cy="340.90" r="1.75" fill="none" stroke="#e6262e" stroke-width="0.8"/>
<line x1="390.50" y1="409.22" x2="390.50" y2="427.20" stroke="#231f20" stroke-width="1" />
<line x1="383.80" y1="419.50" x2="396.80" y2="419.50" stroke="#231f20" stroke-width="1.1" />
<line x1="386.30" y1="409.50" x2="394.30" y2="409.50" stroke="#231f20" stroke-width="1" />
<line x1="386.30" y1="427.50" x2="394.30" y2="427.50" stroke="#231f20" stroke-width="1" />
<line x1="414.50" y1="348.09" x2="414.50" y2="386.93" stroke="#e6262e" stroke-width="1" />
<line x1="406.30" y1="367.50" x2="422.30" y2="367.50" stroke="#e6262e" stroke-width="1.1" />
<line x1="409.80" y1="348.50" x2="418.80" y2="348.50" stroke="#e6262e" stroke-width="1" />
<line x1="409.80" y1="386.50" x2="418.80" y2="386.50" stroke="#e6262e" stroke-width="1" />
<line x1="392.80" y1="335.50" x2="416.10" y2="335.50" stroke="#231f20" stroke-width="1" />
<text x="404.50" y="336.30" font-size="8.5" text-anchor="middle" fill="#231f20" stroke="#231f20" stroke-width="0.22" font-weight="bold" >****</text>
<text x="390.30" y="437.80" font-size="7.8" text-anchor="middle" fill="#231f20" stroke="#231f20" stroke-width="0.22" >EBV–</text>
<text x="414.30" y="437.80" font-size="7.8" text-anchor="middle" fill="#231f20" stroke="#231f20" stroke-width="0.22" >EBV+</text>
<line x1="381.20" y1="441.50" x2="428.30" y2="441.50" stroke="#231f20" stroke-width="1" />
<text x="403.80" y="449.20" font-size="7.8" text-anchor="middle" fill="#231f20" stroke="#231f20" stroke-width="0.22" >NPC</text>
<text transform="translate(360.60,382.00) rotate(-90)" font-size="6.7" text-anchor="middle" fill="#231f20" stroke="#231f20" stroke-width="0.22" >F3 scores</text>
<text x="433.50" y="330.50" font-size="14.5" text-anchor="start" fill="#000" stroke="#000" stroke-width="0.22" font-weight="bold" >H</text>
<line x1="457.50" y1="341.70" x2="457.50" y2="427.50" stroke="#231f20" stroke-width="1.2" />
<line x1="457.30" y1="427.50" x2="515.50" y2="427.50" stroke="#231f20" stroke-width="1.2" />
<line x1="454.90" y1="427.50" x2="457.90" y2="427.50" stroke="#231f20" stroke-width="1" />
<text x="454.30" y="430.00" font-size="7" text-anchor="end" fill="#231f20" stroke="#231f20" stroke-width="0.22" >0</text>
<line x1="454.90" y1="399.50" x2="457.90" y2="399.50" stroke="#231f20" stroke-width="1" />
<text x="454.30" y="401.57" font-size="7" text-anchor="end" fill="#231f20" stroke="#231f20" stroke-width="0.22" >0.5</text>
<line x1="454.90" y1="370.50" x2="457.90" y2="370.50" stroke="#231f20" stroke-width="1" />
<text x="454.30" y="373.13" font-size="7" text-anchor="end" fill="#231f20" stroke="#231f20" stroke-width="0.22" >1.0</text>
<line x1="454.90" y1="342.50" x2="457.90" y2="342.50" stroke="#231f20" stroke-width="1" />
<text x="454.30" y="344.70" font-size="7" text-anchor="end" fill="#231f20" stroke="#231f20" stroke-width="0.22" >1.5</text>
<line x1="475.50" y1="427.50" x2="475.50" y2="430.10" stroke="#231f20" stroke-width="1" />
<line x1="500.50" y1="427.50" x2="500.50" y2="430.10" stroke="#231f20" stroke-width="1" />
<circle cx="475.30" cy="425.23" r="1.75" fill="none" stroke="#231f20" stroke-width="0.8"/>
<circle cx="478.50" cy="425.79" r="1.75" fill="none" stroke="#231f20" stroke-width="0.8"/>
<circle cx="472.10" cy="425.79" r="1.75" fill="none" stroke="#231f20" stroke-width="0.8"/>
<circle cx="470.91" cy="426.36" r="1.75" fill="none" stroke="#231f20" stroke-width="0.8"/>
<circle cx="479.47" cy="426.36" r="1.75" fill="none" stroke="#231f20" stroke-width="0.8"/>
<circle cx="478.47" cy="426.36" r="1.75" fill="none" stroke="#231f20" stroke-width="0.8"/>
<circle cx="472.36" cy="426.93" r="1.75" fill="none" stroke="#231f20" stroke-width="0.8"/>
<circle cx="475.25" cy="426.93" r="1.75" fill="none" stroke="#231f20" stroke-width="0.8"/>
<circle cx="474.69" cy="426.93" r="1.75" fill="none" stroke="#231f20" stroke-width="0.8"/>
<circle cx="477.12" cy="427.50" r="1.75" fill="none" stroke="#231f20" stroke-width="0.8"/>
<circle cx="478.76" cy="427.50" r="1.75" fill="none" stroke="#231f20" stroke-width="0.8"/>
<circle cx="470.43" cy="427.50" r="1.75" fill="none" stroke="#231f20" stroke-width="0.8"/>
<circle cx="500.30" cy="349.59" r="1.75" fill="none" stroke="#e6262e" stroke-width="0.8"/>
<circle cx="503.50" cy="349.59" r="1.75" fill="none" stroke="#e6262e" stroke-width="0.8"/>
<circle cx="500.30" cy="363.24" r="1.75" fill="none" stroke="#e6262e" stroke-width="0.8"/>
<circle cx="500.30" cy="370.63" r="1.75" fill="none" stroke="#e6262e" stroke-width="0.8"/>
<circle cx="503.50" cy="371.77" r="1.75" fill="none" stroke="#e6262e" stroke-width="0.8"/>
<circle cx="500.30" cy="387.69" r="1.75" fill="none" stroke="#e6262e" stroke-width="0.8"/>
<circle cx="500.30" cy="391.11" r="1.75" fill="none" stroke="#e6262e" stroke-width="0.8"/>
<circle cx="500.30" cy="399.07" r="1.75" fill="none" stroke="#e6262e" stroke-width="0.8"/>
<circle cx="501.90" cy="401.91" r="1.75" fill="none" stroke="#e6262e" stroke-width="0.8"/>
<circle cx="500.30" cy="404.75" r="1.75" fill="none" stroke="#e6262e" stroke-width="0.8"/>
<circle cx="501.90" cy="407.60" r="1.75" fill="none" stroke="#e6262e" stroke-width="0.8"/>
<circle cx="500.30" cy="410.44" r="1.75" fill="none" stroke="#e6262e" stroke-width="0.8"/>
<circle cx="503.50" cy="410.44" r="1.75" fill="none" stroke="#e6262e" stroke-width="0.8"/>
<circle cx="501.90" cy="413.28" r="1.75" fill="none" stroke="#e6262e" stroke-width="0.8"/>
<circle cx="498.70" cy="414.99" r="1.75" fill="none" stroke="#e6262e" stroke-width="0.8"/>
<circle cx="501.90" cy="417.26" r="1.75" fill="none" stroke="#e6262e" stroke-width="0.8"/>
<circle cx="500.30" cy="420.68" r="1.75" fill="none" stroke="#e6262e" stroke-width="0.8"/>
<circle cx="503.50" cy="422.95" r="1.75" fill="none" stroke="#e6262e" stroke-width="0.8"/>
<circle cx="500.30" cy="424.66" r="1.75" fill="none" stroke="#e6262e" stroke-width="0.8"/>
<circle cx="497.10" cy="424.66" r="1.75" fill="none" stroke="#e6262e" stroke-width="0.8"/>
<circle cx="495.91" cy="424.66" r="1.75" fill="none" stroke="#e6262e" stroke-width="0.8"/>
<circle cx="504.47" cy="425.23" r="1.75" fill="none" stroke="#e6262e" stroke-width="0.8"/>
<line x1="475.50" y1="425.79" x2="475.50" y2="427.50" stroke="#231f20" stroke-width="1" />
<line x1="470.30" y1="426.50" x2="480.30" y2="426.50" stroke="#231f20" stroke-width="1.1" />
<line x1="472.30" y1="425.50" x2="478.30" y2="425.50" stroke="#231f20" stroke-width="1" />
<line x1="472.30" y1="427.50" x2="478.30" y2="427.50" stroke="#231f20" stroke-width="1" />
<line x1="500.50" y1="376.32" x2="500.50" y2="425.23" stroke="#e6262e" stroke-width="1" />
<line x1="492.30" y1="400.50" x2="508.30" y2="400.50" stroke="#e6262e" stroke-width="1.1" />
<line x1="495.80" y1="376.50" x2="504.80" y2="376.50" stroke="#e6262e" stroke-width="1" />
<line x1="495.80" y1="425.50" x2="504.80" y2="425.50" stroke="#e6262e" stroke-width="1" />
<line x1="479.10" y1="342.50" x2="503.70" y2="342.50" stroke="#231f20" stroke-width="1" />
<text x="491.40" y="343.50" font-size="8.5" text-anchor="middle" fill="#231f20" stroke="#231f20" stroke-width="0.22" font-weight="bold" >****</text>
<text x="475.30" y="437.80" font-size="7.8" text-anchor="middle" fill="#231f20" stroke="#231f20" stroke-width="0.22" >EBV–</text>
<text x="500.30" y="437.80" font-size="7.8" text-anchor="middle" fill="#231f20" stroke="#231f20" stroke-width="0.22" >EBV+</text>
<line x1="468.80" y1="441.50" x2="515.30" y2="441.50" stroke="#231f20" stroke-width="1" />
<text x="492.00" y="449.20" font-size="7.8" text-anchor="middle" fill="#231f20" stroke="#231f20" stroke-width="0.22" >NPC</text>
<text transform="translate(443.00,387.00) rotate(-90)" font-size="7.6" text-anchor="middle" fill="#231f20" stroke="#231f20" stroke-width="0.22" >Platelet area (×10<tspan font-size="5" dy="-3">4</tspan><tspan dy="3"> μm</tspan><tspan font-size="5" dy="-3">2</tspan><tspan dy="3">)</tspan></text>
<text x="355.60" y="480.00" font-size="14.5" text-anchor="start" fill="#000" stroke="#000" stroke-width="0.22" font-weight="bold" >I</text>
<text x="398.40" y="479.20" font-size="8" text-anchor="start" fill="#231f20" stroke="#231f20" stroke-width="0.22" ><tspan font-style="italic">r</tspan> = 0.8158</text>
<text x="398.40" y="490.60" font-size="8" text-anchor="start" fill="#231f20" stroke="#231f20" stroke-width="0.22" ><tspan font-style="italic">P</tspan> &lt; 0.0001</text>
<line x1="391.50" y1="492.10" x2="391.50" y2="577.20" stroke="#231f20" stroke-width="1.2" />
<line x1="390.40" y1="577.50" x2="450.30" y2="577.50" stroke="#231f20" stroke-width="1.2" />
<line x1="388.00" y1="577.50" x2="391.00" y2="577.50" stroke="#231f20" stroke-width="1" />
<text x="387.40" y="579.70" font-size="7" text-anchor="end" fill="#231f20" stroke="#231f20" stroke-width="0.22" >0</text>
<line x1="388.00" y1="549.50" x2="391.00" y2="549.50" stroke="#231f20" stroke-width="1" />
<text x="387.40" y="551.50" font-size="7" text-anchor="end" fill="#231f20" stroke="#231f20" stroke-width="0.22" >0.5</text>
<line x1="388.00" y1="520.50" x2="391.00" y2="520.50" stroke="#231f20" stroke-width="1" />
<text x="387.40" y="523.30" font-size="7" text-anchor="end" fill="#231f20" stroke="#231f20" stroke-width="0.22" >1.0</text>
<line x1="388.00" y1="492.50" x2="391.00" y2="492.50" stroke="#231f20" stroke-width="1" />
<text x="387.40" y="495.10" font-size="7" text-anchor="end" fill="#231f20" stroke="#231f20" stroke-width="0.22" >1.5</text>
<line x1="393.50" y1="577.20" x2="393.50" y2="580.00" stroke="#231f20" stroke-width="1" />
<text x="393.30" y="588.20" font-size="7" text-anchor="middle" fill="#231f20" stroke="#231f20" stroke-width="0.22" >0</text>
<line x1="411.50" y1="577.20" x2="411.50" y2="580.00" stroke="#231f20" stroke-width="1" />
<text x="411.20" y="588.20" font-size="7" text-anchor="middle" fill="#231f20" stroke="#231f20" stroke-width="0.22" >5</text>
<line x1="429.50" y1="577.20" x2="429.50" y2="580.00" stroke="#231f20" stroke-width="1" />
<text x="429.10" y="588.20" font-size="7" text-anchor="middle" fill="#231f20" stroke="#231f20" stroke-width="0.22" >10</text>
<line x1="447.50" y1="577.20" x2="447.50" y2="580.00" stroke="#231f20" stroke-width="1" />
<text x="447.00" y="588.20" font-size="7" text-anchor="middle" fill="#231f20" stroke="#231f20" stroke-width="0.22" >15</text>
<text x="421.00" y="596.30" font-size="7.8" text-anchor="middle" fill="#231f20" stroke="#231f20" stroke-width="0.22" >F3 score</text>
<text transform="translate(372.30,536.50) rotate(-90)" font-size="7.6" text-anchor="middle" fill="#231f20" stroke="#231f20" stroke-width="0.22" >Platelet area (×10<tspan font-size="5" dy="-3">4</tspan><tspan dy="3"> μm</tspan><tspan font-size="5" dy="-3">2</tspan><tspan dy="3">)</tspan></text>
<line x1="399.5" y1="564.7" x2="438.3" y2="524.9" stroke="#e0566e" stroke-width="1.0" stroke-dasharray="1.1,1.1"/>
<line x1="412.4" y1="575.5" x2="438.3" y2="547.5" stroke="#e0566e" stroke-width="1.0" stroke-dasharray="1.1,1.1"/>
<circle cx="438.30" cy="500.60" r="1.75" fill="none" stroke="#231f20" stroke-width="0.8"/>
<circle cx="438.30" cy="514.10" r="1.75" fill="none" stroke="#231f20" stroke-width="0.8"/>
<circle cx="438.30" cy="522.10" r="1.75" fill="none" stroke="#231f20" stroke-width="0.8"/>
<circle cx="412.40" cy="521.20" r="1.75" fill="none" stroke="#231f20" stroke-width="0.8"/>
<circle cx="419.50" cy="519.10" r="1.75" fill="none" stroke="#231f20" stroke-width="0.8"/>
<circle cx="419.50" cy="540.60" r="1.75" fill="none" stroke="#231f20" stroke-width="0.8"/>
<circle cx="438.30" cy="544.90" r="1.75" fill="none" stroke="#231f20" stroke-width="0.8"/>
<circle cx="438.30" cy="558.70" r="1.75" fill="none" stroke="#231f20" stroke-width="0.8"/>
<circle cx="438.30" cy="573.30" r="1.75" fill="none" stroke="#231f20" stroke-width="0.8"/>
<circle cx="432.90" cy="552.90" r="1.75" fill="none" stroke="#231f20" stroke-width="0.8"/>
<circle cx="430.70" cy="555.70" r="1.75" fill="none" stroke="#231f20" stroke-width="0.8"/>
<circle cx="432.90" cy="560.00" r="1.75" fill="none" stroke="#231f20" stroke-width="0.8"/>
<circle cx="425.30" cy="555.70" r="1.75" fill="none" stroke="#231f20" stroke-width="0.8"/>
<circle cx="427.10" cy="564.70" r="1.75" fill="none" stroke="#231f20" stroke-width="0.8"/>
<circle cx="421.00" cy="562.60" r="1.75" fill="none" stroke="#231f20" stroke-width="0.8"/>
<circle cx="421.70" cy="567.30" r="1.75" fill="none" stroke="#231f20" stroke-width="0.8"/>
<circle cx="415.70" cy="560.40" r="1.75" fill="none" stroke="#231f20" stroke-width="0.8"/>
<circle cx="408.10" cy="563.00" r="1.75" fill="none" stroke="#231f20" stroke-width="0.8"/>
<circle cx="412.40" cy="571.20" r="1.75" fill="none" stroke="#231f20" stroke-width="0.8"/>
<circle cx="411.40" cy="575.10" r="1.75" fill="none" stroke="#231f20" stroke-width="0.8"/>
<circle cx="417.20" cy="574.40" r="1.75" fill="none" stroke="#231f20" stroke-width="0.8"/>
<circle cx="418.50" cy="573.30" r="1.75" fill="none" stroke="#231f20" stroke-width="0.8"/>
<circle cx="403.80" cy="575.50" r="1.75" fill="none" stroke="#231f20" stroke-width="0.8"/>
<circle cx="398.40" cy="575.90" r="1.75" fill="none" stroke="#231f20" stroke-width="0.8"/>
<circle cx="400.00" cy="576.00" r="1.75" fill="none" stroke="#231f20" stroke-width="0.8"/>
<circle cx="396.50" cy="576.60" r="1.75" fill="none" stroke="#231f20" stroke-width="0.8"/>
<circle cx="397.80" cy="576.20" r="1.75" fill="none" stroke="#231f20" stroke-width="0.8"/>
<line x1="401.70" y1="577.00" x2="438.30" y2="537.20" stroke="#231f20" stroke-width="1.1" />
<text x="132.40" y="14.50" font-size="14.5" text-anchor="start" fill="#000" stroke="#000" stroke-width="0.22" font-weight="bold" >B</text>
<text x="225.70" y="23.80" font-size="7.8" text-anchor="middle" fill="#231f20" stroke="#231f20" stroke-width="0.22" >NPC</text>
<line x1="170.80" y1="27.50" x2="276.40" y2="27.50" stroke="#231f20" stroke-width="0.9" />
<text x="171.50" y="35.00" font-size="7.8" text-anchor="start" fill="#231f20" stroke="#231f20" stroke-width="0.22" >EBV–</text>
<text x="257.80" y="35.00" font-size="7.8" text-anchor="start" fill="#231f20" stroke="#231f20" stroke-width="0.22" >EBV+</text>
<text x="402.70" y="24.20" font-size="7.8" text-anchor="middle" fill="#231f20" stroke="#231f20" stroke-width="0.22" >GC</text>
<line x1="350.80" y1="27.50" x2="456.50" y2="27.50" stroke="#231f20" stroke-width="0.9" />
<text x="350.40" y="36.30" font-size="7.8" text-anchor="start" fill="#231f20" stroke="#231f20" stroke-width="0.22" >EBV–</text>
<text x="437.20" y="36.30" font-size="7.8" text-anchor="start" fill="#231f20" stroke="#231f20" stroke-width="0.22" >EBV+</text>
<text x="492.60" y="47.80" font-size="7.6" text-anchor="start" fill="#3a3f97" stroke="#3a3f97" stroke-width="0.22" >DAPI</text>
<text x="492.60" y="57.20" font-size="7.6" text-anchor="start" fill="#f6d9a0" stroke="#f6d9a0" stroke-width="0.22" >CD3</text>
<text x="492.60" y="66.60" font-size="7.6" text-anchor="start" fill="#3ba257" stroke="#3ba257" stroke-width="0.22" >CD56</text>
<text x="492.60" y="76.00" font-size="7.6" text-anchor="start" fill="#9ccde8" stroke="#9ccde8" stroke-width="0.22" >PanCK</text>
<text x="492.60" y="85.40" font-size="7.6" text-anchor="start" fill="#e3323a" stroke="#e3323a" stroke-width="0.22" >Gran B</text>
<defs>
<filter id="nz" x="0" y="0" width="100%" height="100%"><feTurbulence type="fractalNoise" baseFrequency="0.55" numOctaves="2" seed="4" result="t"/><feColorMatrix in="t" type="matrix" values="0 0 0 0 1  0 0 0 0 1  0 0 0 0 1  0 0 0 1.6 -0.75" /></filter>
<filter id="nzd" x="0" y="0" width="100%" height="100%"><feTurbulence type="fractalNoise" baseFrequency="0.5" numOctaves="2" seed="9" result="t"/><feColorMatrix in="t" type="matrix" values="0 0 0 0 0  0 0 0 0 0  0 0 0 0 0  0 0 0 1.6 -0.7" /></filter>
<filter id="stk" x="0" y="0" width="100%" height="100%"><feTurbulence type="fractalNoise" baseFrequency="0.14 0.4" numOctaves="2" seed="7" result="t"/><feColorMatrix in="t" type="matrix" values="0 0 0 0 0.18  0 0 0 0 0.6  0 0 0 0 0.62  0 0 0 3.0 -1.35" /></filter>
<filter id="spk" x="0" y="0" width="100%" height="100%"><feTurbulence type="fractalNoise" baseFrequency="0.35" numOctaves="2" seed="11" result="t"/><feColorMatrix in="t" type="matrix" values="0 0 0 0 0.2  0 0 0 0 0.62  0 0 0 0 0.66  0 0 0 3.0 -1.45" /></filter>
<filter id="nzb" x="0" y="0" width="100%" height="100%"><feTurbulence type="fractalNoise" baseFrequency="0.35" numOctaves="3" seed="2" result="t"/><feColorMatrix in="t" type="matrix" values="0 0 0 0 0.25  0 0 0 0 0.55  0 0 0 0 0.85  0 0 0 2.0 -1.0" /></filter>
</defs>
<clipPath id="bc0"><rect x="140.0" y="41.1" width="85.19999999999999" height="85.0"/></clipPath>
<g clip-path="url(#bc0)">
<rect x="140.00" y="41.10" width="85.20" height="85.00" fill="#0a1612" stroke="none" stroke-width="1" />
<path d="M180.40,44.90 C182.42,44.33 184.02,46.67 185.60,48.40 C187.18,50.13 189.23,53.28 189.90,55.30 C190.57,57.32 190.60,59.20 189.60,60.50 C188.60,61.80 186.02,61.80 183.90,63.10 C181.78,64.40 178.35,66.87 176.90,68.30 C175.45,69.73 174.77,70.70 175.20,71.70 C175.63,72.70 178.92,72.70 179.50,74.30 C180.08,75.90 179.13,78.98 178.70,81.30 C178.27,83.62 177.92,85.75 176.90,88.20 C175.88,90.65 174.75,94.77 172.60,96.00 C170.45,97.23 166.60,96.03 164.00,95.60 C161.40,95.17 159.60,94.78 157.00,93.40 C154.40,92.02 149.98,89.32 148.40,87.30 C146.82,85.28 147.07,83.75 147.50,81.30 C147.93,78.85 149.42,75.35 151.00,72.60 C152.58,69.85 154.55,67.40 157.00,64.80 C159.45,62.20 162.95,59.17 165.70,57.00 C168.45,54.83 171.05,53.82 173.50,51.80 C175.95,49.78 178.38,45.47 180.40,44.90 Z" fill="#1b3a62" opacity="1.0"/>
<path d="M199.40,43.20 C200.98,41.82 204.17,41.95 207.20,41.80 C210.23,41.65 215.00,41.63 217.60,42.30 C220.20,42.97 222.52,43.78 222.80,45.80 C223.08,47.82 219.58,51.95 219.30,54.40 C219.02,56.85 220.37,58.18 221.10,60.50 C221.83,62.82 223.27,65.42 223.70,68.30 C224.13,71.18 223.57,75.35 223.70,77.80 C223.83,80.25 224.37,81.42 224.50,83.00 C224.63,84.58 225.07,85.57 224.50,87.30 C223.93,89.03 222.82,91.95 221.10,93.40 C219.38,94.85 216.22,94.70 214.20,96.00 C212.18,97.30 211.32,99.77 209.00,101.20 C206.68,102.63 202.90,103.17 200.30,104.60 C197.70,106.03 195.70,107.78 193.40,109.80 C191.10,111.82 189.10,114.82 186.50,116.70 C183.90,118.58 181.55,120.23 177.80,121.10 C174.05,121.97 168.33,121.77 164.00,121.90 C159.67,122.03 155.12,122.18 151.80,121.90 C148.48,121.62 145.25,121.93 144.10,120.20 C142.95,118.47 144.47,115.10 144.90,111.50 C145.33,107.90 145.68,100.75 146.70,98.60 C147.72,96.45 150.00,97.60 151.00,98.60 C152.00,99.60 151.98,102.45 152.70,104.60 C153.42,106.75 154.43,109.62 155.30,111.50 C156.17,113.38 156.60,115.27 157.90,115.90 C159.20,116.53 162.52,116.25 163.10,115.30 C163.68,114.35 160.97,111.17 161.40,110.20 C161.83,109.23 163.83,110.43 165.70,109.50 C167.57,108.57 170.30,106.13 172.60,104.60 C174.90,103.07 177.48,102.32 179.50,100.30 C181.52,98.28 183.25,95.25 184.70,92.50 C186.15,89.75 187.33,86.40 188.20,83.80 C189.07,81.20 189.32,78.77 189.90,76.90 C190.48,75.03 191.68,74.03 191.70,72.60 C191.72,71.17 190.87,69.45 190.00,68.30 C189.13,67.15 186.80,66.57 186.50,65.70 C186.20,64.83 187.05,63.68 188.20,63.10 C189.35,62.52 191.67,62.63 193.40,62.20 C195.13,61.77 198.03,61.65 198.60,60.50 C199.17,59.35 196.95,57.03 196.80,55.30 C196.65,53.57 197.27,52.12 197.70,50.10 C198.13,48.08 197.82,44.58 199.40,43.20 Z" fill="#1c3d66" opacity="1.0"/>
<clipPath id="bs0"><path d="M180.40,44.90 C182.42,44.33 184.02,46.67 185.60,48.40 C187.18,50.13 189.23,53.28 189.90,55.30 C190.57,57.32 190.60,59.20 189.60,60.50 C188.60,61.80 186.02,61.80 183.90,63.10 C181.78,64.40 178.35,66.87 176.90,68.30 C175.45,69.73 174.77,70.70 175.20,71.70 C175.63,72.70 178.92,72.70 179.50,74.30 C180.08,75.90 179.13,78.98 178.70,81.30 C178.27,83.62 177.92,85.75 176.90,88.20 C175.88,90.65 174.75,94.77 172.60,96.00 C170.45,97.23 166.60,96.03 164.00,95.60 C161.40,95.17 159.60,94.78 157.00,93.40 C154.40,92.02 149.98,89.32 148.40,87.30 C146.82,85.28 147.07,83.75 147.50,81.30 C147.93,78.85 149.42,75.35 151.00,72.60 C152.58,69.85 154.55,67.40 157.00,64.80 C159.45,62.20 162.95,59.17 165.70,57.00 C168.45,54.83 171.05,53.82 173.50,51.80 C175.95,49.78 178.38,45.47 180.40,44.90 Z"/><path d="M199.40,43.20 C200.98,41.82 204.17,41.95 207.20,41.80 C210.23,41.65 215.00,41.63 217.60,42.30 C220.20,42.97 222.52,43.78 222.80,45.80 C223.08,47.82 219.58,51.95 219.30,54.40 C219.02,56.85 220.37,58.18 221.10,60.50 C221.83,62.82 223.27,65.42 223.70,68.30 C224.13,71.18 223.57,75.35 223.70,77.80 C223.83,80.25 224.37,81.42 224.50,83.00 C224.63,84.58 225.07,85.57 224.50,87.30 C223.93,89.03 222.82,91.95 221.10,93.40 C219.38,94.85 216.22,94.70 214.20,96.00 C212.18,97.30 211.32,99.77 209.00,101.20 C206.68,102.63 202.90,103.17 200.30,104.60 C197.70,106.03 195.70,107.78 193.40,109.80 C191.10,111.82 189.10,114.82 186.50,116.70 C183.90,118.58 181.55,120.23 177.80,121.10 C174.05,121.97 168.33,121.77 164.00,121.90 C159.67,122.03 155.12,122.18 151.80,121.90 C148.48,121.62 145.25,121.93 144.10,120.20 C142.95,118.47 144.47,115.10 144.90,111.50 C145.33,107.90 145.68,100.75 146.70,98.60 C147.72,96.45 150.00,97.60 151.00,98.60 C152.00,99.60 151.98,102.45 152.70,104.60 C153.42,106.75 154.43,109.62 155.30,111.50 C156.17,113.38 156.60,115.27 157.90,115.90 C159.20,116.53 162.52,116.25 163.10,115.30 C163.68,114.35 160.97,111.17 161.40,110.20 C161.83,109.23 163.83,110.43 165.70,109.50 C167.57,108.57 170.30,106.13 172.60,104.60 C174.90,103.07 177.48,102.32 179.50,100.30 C181.52,98.28 183.25,95.25 184.70,92.50 C186.15,89.75 187.33,86.40 188.20,83.80 C189.07,81.20 189.32,78.77 189.90,76.90 C190.48,75.03 191.68,74.03 191.70,72.60 C191.72,71.17 190.87,69.45 190.00,68.30 C189.13,67.15 186.80,66.57 186.50,65.70 C186.20,64.83 187.05,63.68 188.20,63.10 C189.35,62.52 191.67,62.63 193.40,62.20 C195.13,61.77 198.03,61.65 198.60,60.50 C199.17,59.35 196.95,57.03 196.80,55.30 C196.65,53.57 197.27,52.12 197.70,50.10 C198.13,48.08 197.82,44.58 199.40,43.20 Z"/></clipPath>
<g clip-path="url(#bs0)"><ellipse cx="160" cy="110" rx="18" ry="8" fill="#2a5a90" opacity="0.6" filter="url(#bl3)"/><ellipse cx="165" cy="70" rx="10" ry="14" fill="#24508a" opacity="0.5" filter="url(#bl3)"/><ellipse cx="210" cy="60" rx="10" ry="10" fill="#173060" opacity="0.5" filter="url(#bl3)"/><ellipse cx="215" cy="95" rx="8" ry="8" fill="#2a5a92" opacity="0.5" filter="url(#bl3)"/></g>
<rect x="140.00" y="41.10" width="85.20" height="85.00" fill="#000" stroke="none" stroke-width="1" filter="url(#nzb)" opacity="0.16"/>
<rect x="140.00" y="41.10" width="85.20" height="85.00" fill="#000" stroke="none" stroke-width="1" filter="url(#nzd)" opacity="0.35"/>
<path d="M180.40,44.90 C182.42,44.33 184.02,46.67 185.60,48.40 C187.18,50.13 189.23,53.28 189.90,55.30 C190.57,57.32 190.60,59.20 189.60,60.50 C188.60,61.80 186.02,61.80 183.90,63.10 C181.78,64.40 178.35,66.87 176.90,68.30 C175.45,69.73 174.77,70.70 175.20,71.70 C175.63,72.70 178.92,72.70 179.50,74.30 C180.08,75.90 179.13,78.98 178.70,81.30 C178.27,83.62 177.92,85.75 176.90,88.20 C175.88,90.65 174.75,94.77 172.60,96.00 C170.45,97.23 166.60,96.03 164.00,95.60 C161.40,95.17 159.60,94.78 157.00,93.40 C154.40,92.02 149.98,89.32 148.40,87.30 C146.82,85.28 147.07,83.75 147.50,81.30 C147.93,78.85 149.42,75.35 151.00,72.60 C152.58,69.85 154.55,67.40 157.00,64.80 C159.45,62.20 162.95,59.17 165.70,57.00 C168.45,54.83 171.05,53.82 173.50,51.80 C175.95,49.78 178.38,45.47 180.40,44.90 Z" fill="none" stroke="#eef3f8" stroke-width="1.2" stroke-dasharray="2.4,1.4"/>
<path d="M199.40,43.20 C200.98,41.82 204.17,41.95 207.20,41.80 C210.23,41.65 215.00,41.63 217.60,42.30 C220.20,42.97 222.52,43.78 222.80,45.80 C223.08,47.82 219.58,51.95 219.30,54.40 C219.02,56.85 220.37,58.18 221.10,60.50 C221.83,62.82 223.27,65.42 223.70,68.30 C224.13,71.18 223.57,75.35 223.70,77.80 C223.83,80.25 224.37,81.42 224.50,83.00 C224.63,84.58 225.07,85.57 224.50,87.30 C223.93,89.03 222.82,91.95 221.10,93.40 C219.38,94.85 216.22,94.70 214.20,96.00 C212.18,97.30 211.32,99.77 209.00,101.20 C206.68,102.63 202.90,103.17 200.30,104.60 C197.70,106.03 195.70,107.78 193.40,109.80 C191.10,111.82 189.10,114.82 186.50,116.70 C183.90,118.58 181.55,120.23 177.80,121.10 C174.05,121.97 168.33,121.77 164.00,121.90 C159.67,122.03 155.12,122.18 151.80,121.90 C148.48,121.62 145.25,121.93 144.10,120.20 C142.95,118.47 144.47,115.10 144.90,111.50 C145.33,107.90 145.68,100.75 146.70,98.60 C147.72,96.45 150.00,97.60 151.00,98.60 C152.00,99.60 151.98,102.45 152.70,104.60 C153.42,106.75 154.43,109.62 155.30,111.50 C156.17,113.38 156.60,115.27 157.90,115.90 C159.20,116.53 162.52,116.25 163.10,115.30 C163.68,114.35 160.97,111.17 161.40,110.20 C161.83,109.23 163.83,110.43 165.70,109.50 C167.57,108.57 170.30,106.13 172.60,104.60 C174.90,103.07 177.48,102.32 179.50,100.30 C181.52,98.28 183.25,95.25 184.70,92.50 C186.15,89.75 187.33,86.40 188.20,83.80 C189.07,81.20 189.32,78.77 189.90,76.90 C190.48,75.03 191.68,74.03 191.70,72.60 C191.72,71.17 190.87,69.45 190.00,68.30 C189.13,67.15 186.80,66.57 186.50,65.70 C186.20,64.83 187.05,63.68 188.20,63.10 C189.35,62.52 191.67,62.63 193.40,62.20 C195.13,61.77 198.03,61.65 198.60,60.50 C199.17,59.35 196.95,57.03 196.80,55.30 C196.65,53.57 197.27,52.12 197.70,50.10 C198.13,48.08 197.82,44.58 199.40,43.20 Z" fill="none" stroke="#eef3f8" stroke-width="1.2" stroke-dasharray="2.4,1.4"/>
</g>
<rect x="208.20" y="122.00" width="14.20" height="2.30" fill="#f4f4f4" stroke="none" stroke-width="1" />
<clipPath id="bc1"><rect x="228.0" y="41.2" width="85.19999999999999" height="84.89999999999999"/></clipPath>
<g clip-path="url(#bc1)">
<rect x="228.00" y="41.20" width="85.20" height="84.90" fill="#0b1229" stroke="none" stroke-width="1" />
<ellipse cx="242" cy="112" rx="16" ry="14" fill="#1c2c58" opacity="0.8" filter="url(#bl3)"/>
<ellipse cx="306" cy="105" rx="9" ry="18" fill="#1a2a52" opacity="0.7" filter="url(#bl3)"/>
<ellipse cx="240" cy="55" rx="10" ry="10" fill="#182850" opacity="0.6" filter="url(#bl3)"/>
<path d="M254.56,43.19 C256.58,42.18 261.91,41.75 265.81,42.33 C269.70,42.90 274.46,45.36 277.92,46.65 C281.38,47.95 283.11,49.11 286.57,50.11 C290.04,51.12 296.09,50.98 298.69,52.71 C301.29,54.44 300.42,57.76 302.15,60.50 C303.88,63.24 307.63,65.98 309.07,69.15 C310.52,72.33 310.80,76.65 310.80,79.54 C310.80,82.42 309.65,84.73 309.07,86.46 C308.50,88.19 308.06,90.79 307.34,89.92 C306.62,89.06 306.19,83.29 304.75,81.27 C303.30,79.25 300.85,77.81 298.69,77.81 C296.53,77.81 294.36,81.12 291.77,81.27 C289.17,81.41 285.71,79.83 283.11,78.67 C280.52,77.52 278.50,75.35 276.19,74.34 C273.88,73.34 271.58,72.61 269.27,72.61 C266.96,72.61 264.65,73.48 262.34,74.34 C260.04,75.21 257.73,76.94 255.42,77.81 C253.11,78.67 250.52,79.83 248.50,79.54 C246.48,79.25 245.33,76.51 243.31,76.08 C241.29,75.64 238.55,77.23 236.38,76.94 C234.22,76.65 231.19,75.93 230.33,74.34 C229.46,72.76 230.62,69.73 231.19,67.42 C231.77,65.11 232.06,62.09 233.79,60.50 C235.52,58.91 239.12,57.90 241.58,57.90 C244.03,57.90 246.62,60.93 248.50,60.50 C250.37,60.07 251.96,57.33 252.83,55.31 C253.69,53.29 253.40,50.40 253.69,48.38 C253.98,46.37 252.54,44.20 254.56,43.19 Z" fill="#1c4070" opacity="1.0"/>
<path d="M239.85,89.92 C241.14,88.48 243.88,87.90 246.77,88.19 C249.65,88.48 253.98,89.92 257.15,91.65 C260.33,93.38 263.21,96.27 265.81,98.57 C268.40,100.88 271.14,105.50 272.73,105.50 C274.32,105.50 273.88,100.59 275.33,98.57 C276.77,96.56 279.22,94.82 281.38,93.38 C283.55,91.94 286.57,91.07 288.31,89.92 C290.04,88.77 290.61,86.46 291.77,86.46 C292.92,86.46 294.94,88.77 295.23,89.92 C295.52,91.07 294.36,92.52 293.50,93.38 C292.63,94.25 291.19,93.96 290.04,95.11 C288.88,96.27 286.86,98.29 286.57,100.31 C286.29,102.32 287.73,105.21 288.31,107.23 C288.88,109.25 290.32,110.55 290.04,112.42 C289.75,114.30 288.59,117.04 286.57,118.48 C284.56,119.92 280.81,121.22 277.92,121.07 C275.04,120.93 272.15,119.34 269.27,117.61 C266.38,115.88 263.50,112.71 260.61,110.69 C257.73,108.67 254.85,106.94 251.96,105.50 C249.08,104.06 245.47,103.48 243.31,102.04 C241.14,100.59 239.56,98.86 238.98,96.84 C238.40,94.82 238.55,91.36 239.85,89.92 Z" fill="#1e4676" opacity="1.0"/>
<clipPath id="bs1"><path d="M254.56,43.19 C256.58,42.18 261.91,41.75 265.81,42.33 C269.70,42.90 274.46,45.36 277.92,46.65 C281.38,47.95 283.11,49.11 286.57,50.11 C290.04,51.12 296.09,50.98 298.69,52.71 C301.29,54.44 300.42,57.76 302.15,60.50 C303.88,63.24 307.63,65.98 309.07,69.15 C310.52,72.33 310.80,76.65 310.80,79.54 C310.80,82.42 309.65,84.73 309.07,86.46 C308.50,88.19 308.06,90.79 307.34,89.92 C306.62,89.06 306.19,83.29 304.75,81.27 C303.30,79.25 300.85,77.81 298.69,77.81 C296.53,77.81 294.36,81.12 291.77,81.27 C289.17,81.41 285.71,79.83 283.11,78.67 C280.52,77.52 278.50,75.35 276.19,74.34 C273.88,73.34 271.58,72.61 269.27,72.61 C266.96,72.61 264.65,73.48 262.34,74.34 C260.04,75.21 257.73,76.94 255.42,77.81 C253.11,78.67 250.52,79.83 248.50,79.54 C246.48,79.25 245.33,76.51 243.31,76.08 C241.29,75.64 238.55,77.23 236.38,76.94 C234.22,76.65 231.19,75.93 230.33,74.34 C229.46,72.76 230.62,69.73 231.19,67.42 C231.77,65.11 232.06,62.09 233.79,60.50 C235.52,58.91 239.12,57.90 241.58,57.90 C244.03,57.90 246.62,60.93 248.50,60.50 C250.37,60.07 251.96,57.33 252.83,55.31 C253.69,53.29 253.40,50.40 253.69,48.38 C253.98,46.37 252.54,44.20 254.56,43.19 Z"/><path d="M239.85,89.92 C241.14,88.48 243.88,87.90 246.77,88.19 C249.65,88.48 253.98,89.92 257.15,91.65 C260.33,93.38 263.21,96.27 265.81,98.57 C268.40,100.88 271.14,105.50 272.73,105.50 C274.32,105.50 273.88,100.59 275.33,98.57 C276.77,96.56 279.22,94.82 281.38,93.38 C283.55,91.94 286.57,91.07 288.31,89.92 C290.04,88.77 290.61,86.46 291.77,86.46 C292.92,86.46 294.94,88.77 295.23,89.92 C295.52,91.07 294.36,92.52 293.50,93.38 C292.63,94.25 291.19,93.96 290.04,95.11 C288.88,96.27 286.86,98.29 286.57,100.31 C286.29,102.32 287.73,105.21 288.31,107.23 C288.88,109.25 290.32,110.55 290.04,112.42 C289.75,114.30 288.59,117.04 286.57,118.48 C284.56,119.92 280.81,121.22 277.92,121.07 C275.04,120.93 272.15,119.34 269.27,117.61 C266.38,115.88 263.50,112.71 260.61,110.69 C257.73,108.67 254.85,106.94 251.96,105.50 C249.08,104.06 245.47,103.48 243.31,102.04 C241.14,100.59 239.56,98.86 238.98,96.84 C238.40,94.82 238.55,91.36 239.85,89.92 Z"/></clipPath>
<g clip-path="url(#bs1)"><ellipse cx="265" cy="105" rx="22" ry="14" fill="#2c6cae" opacity="0.75" filter="url(#bl3)"/><ellipse cx="240" cy="70" rx="10" ry="8" fill="#2a66a6" opacity="0.7" filter="url(#bl3)"/><ellipse cx="272" cy="58" rx="16" ry="9" fill="#173574" opacity="0.6" filter="url(#bl3)"/><ellipse cx="300" cy="80" rx="8" ry="10" fill="#2a64a4" opacity="0.6" filter="url(#bl3)"/></g>
<rect x="228.00" y="41.20" width="85.20" height="84.90" fill="#000" stroke="none" stroke-width="1" filter="url(#nzb)" opacity="0.16"/>
<rect x="228.00" y="41.20" width="85.20" height="84.90" fill="#000" stroke="none" stroke-width="1" filter="url(#nzd)" opacity="0.35"/>
<path d="M254.56,43.19 C256.58,42.18 261.91,41.75 265.81,42.33 C269.70,42.90 274.46,45.36 277.92,46.65 C281.38,47.95 283.11,49.11 286.57,50.11 C290.04,51.12 296.09,50.98 298.69,52.71 C301.29,54.44 300.42,57.76 302.15,60.50 C303.88,63.24 307.63,65.98 309.07,69.15 C310.52,72.33 310.80,76.65 310.80,79.54 C310.80,82.42 309.65,84.73 309.07,86.46 C308.50,88.19 308.06,90.79 307.34,89.92 C306.62,89.06 306.19,83.29 304.75,81.27 C303.30,79.25 300.85,77.81 298.69,77.81 C296.53,77.81 294.36,81.12 291.77,81.27 C289.17,81.41 285.71,79.83 283.11,78.67 C280.52,77.52 278.50,75.35 276.19,74.34 C273.88,73.34 271.58,72.61 269.27,72.61 C266.96,72.61 264.65,73.48 262.34,74.34 C260.04,75.21 257.73,76.94 255.42,77.81 C253.11,78.67 250.52,79.83 248.50,79.54 C246.48,79.25 245.33,76.51 243.31,76.08 C241.29,75.64 238.55,77.23 236.38,76.94 C234.22,76.65 231.19,75.93 230.33,74.34 C229.46,72.76 230.62,69.73 231.19,67.42 C231.77,65.11 232.06,62.09 233.79,60.50 C235.52,58.91 239.12,57.90 241.58,57.90 C244.03,57.90 246.62,60.93 248.50,60.50 C250.37,60.07 251.96,57.33 252.83,55.31 C253.69,53.29 253.40,50.40 253.69,48.38 C253.98,46.37 252.54,44.20 254.56,43.19 Z" fill="none" stroke="#eef3f8" stroke-width="1.2" stroke-dasharray="2.4,1.4"/>
<path d="M239.85,89.92 C241.14,88.48 243.88,87.90 246.77,88.19 C249.65,88.48 253.98,89.92 257.15,91.65 C260.33,93.38 263.21,96.27 265.81,98.57 C268.40,100.88 271.14,105.50 272.73,105.50 C274.32,105.50 273.88,100.59 275.33,98.57 C276.77,96.56 279.22,94.82 281.38,93.38 C283.55,91.94 286.57,91.07 288.31,89.92 C290.04,88.77 290.61,86.46 291.77,86.46 C292.92,86.46 294.94,88.77 295.23,89.92 C295.52,91.07 294.36,92.52 293.50,93.38 C292.63,94.25 291.19,93.96 290.04,95.11 C288.88,96.27 286.86,98.29 286.57,100.31 C286.29,102.32 287.73,105.21 288.31,107.23 C288.88,109.25 290.32,110.55 290.04,112.42 C289.75,114.30 288.59,117.04 286.57,118.48 C284.56,119.92 280.81,121.22 277.92,121.07 C275.04,120.93 272.15,119.34 269.27,117.61 C266.38,115.88 263.50,112.71 260.61,110.69 C257.73,108.67 254.85,106.94 251.96,105.50 C249.08,104.06 245.47,103.48 243.31,102.04 C241.14,100.59 239.56,98.86 238.98,96.84 C238.40,94.82 238.55,91.36 239.85,89.92 Z" fill="none" stroke="#eef3f8" stroke-width="1.2" stroke-dasharray="2.4,1.4"/>
</g>
<rect x="296.20" y="122.00" width="14.20" height="2.30" fill="#f4f4f4" stroke="none" stroke-width="1" />
<clipPath id="bc2"><rect x="318.0" y="41.2" width="85.30000000000001" height="84.89999999999999"/></clipPath>
<g clip-path="url(#bc2)">
<rect x="318.00" y="41.20" width="85.30" height="84.90" fill="#120c1a" stroke="none" stroke-width="1" />
<path d="M320.48,57.53 C321.31,56.15 322.96,60.15 324.61,62.49 C326.26,64.83 328.47,69.24 330.40,71.58 C332.33,73.92 334.39,75.71 336.18,76.54 C337.97,77.36 339.35,76.95 341.14,76.54 C342.93,76.12 344.86,74.61 346.93,74.06 C348.99,73.51 351.47,73.51 353.54,73.23 C355.60,72.96 357.26,72.96 359.32,72.40 C361.39,71.85 363.73,69.79 365.93,69.93 C368.14,70.06 370.34,72.13 372.55,73.23 C374.75,74.33 377.23,75.02 379.16,76.54 C381.09,78.05 382.74,80.26 384.12,82.32 C385.49,84.39 386.32,87.28 387.42,88.93 C388.52,90.59 389.35,91.14 390.73,92.24 C392.10,93.34 394.31,93.89 395.69,95.55 C397.06,97.20 398.72,99.95 398.99,102.16 C399.27,104.36 398.30,106.84 397.34,108.77 C396.37,110.70 394.86,112.63 393.21,113.73 C391.55,114.83 389.49,115.38 387.42,115.38 C385.36,115.38 383.01,114.28 380.81,113.73 C378.61,113.18 376.40,112.07 374.20,112.07 C371.99,112.07 369.52,112.90 367.59,113.73 C365.66,114.55 364.28,115.93 362.63,117.03 C360.98,118.13 359.32,119.51 357.67,120.34 C356.02,121.17 354.64,122.27 352.71,121.99 C350.78,121.72 348.03,120.06 346.10,118.69 C344.17,117.31 343.07,115.10 341.14,113.73 C339.21,112.35 336.73,111.25 334.53,110.42 C332.33,109.60 330.12,109.32 327.92,108.77 C325.71,108.22 322.68,109.32 321.31,107.12 C319.93,104.91 319.65,99.68 319.65,95.55 C319.65,91.41 321.31,86.45 321.31,82.32 C321.31,78.19 319.79,74.88 319.65,70.75 C319.52,66.62 319.65,58.91 320.48,57.53 Z" fill="#143840" opacity="1.0"/>
<path d="M322.96,47.61 C323.79,46.92 325.99,45.96 327.92,46.79 C329.85,47.61 332.60,50.23 334.53,52.57 C336.46,54.91 338.39,58.08 339.49,60.83 C340.59,63.59 341.00,66.76 341.14,69.10 C341.28,71.44 341.00,73.78 340.31,74.88 C339.63,75.99 338.11,76.40 337.01,75.71 C335.91,75.02 334.94,72.68 333.70,70.75 C332.46,68.82 331.09,66.62 329.57,64.14 C328.06,61.66 325.71,58.08 324.61,55.88 C323.51,53.67 323.23,52.29 322.96,50.92 C322.68,49.54 322.13,48.30 322.96,47.61 Z" fill="#15404a" opacity="1.0"/>
<path d="M342.79,45.13 C343.62,44.03 346.10,43.34 347.75,44.31 C349.40,45.27 351.20,48.44 352.71,50.92 C354.23,53.40 355.88,56.43 356.84,59.18 C357.81,61.94 358.36,65.24 358.50,67.45 C358.63,69.65 358.36,71.72 357.67,72.40 C356.98,73.09 355.60,72.68 354.36,71.58 C353.12,70.48 351.61,67.86 350.23,65.79 C348.85,63.73 347.34,61.66 346.10,59.18 C344.86,56.70 343.34,53.26 342.79,50.92 C342.24,48.58 341.97,46.23 342.79,45.13 Z" fill="#15404a" opacity="1.0"/>
<path d="M356.02,51.74 C357.39,50.37 362.35,46.79 364.28,45.96 C366.21,45.13 366.21,45.96 367.59,46.79 C368.96,47.61 370.34,49.40 372.55,50.92 C374.75,52.43 378.88,53.95 380.81,55.88 C382.74,57.80 383.70,60.42 384.12,62.49 C384.53,64.55 384.12,67.17 383.29,68.27 C382.46,69.37 380.67,69.51 379.16,69.10 C377.64,68.69 375.58,66.62 374.20,65.79 C372.82,64.97 372.55,64.97 370.89,64.14 C369.24,63.31 366.21,61.94 364.28,60.83 C362.35,59.73 360.70,58.63 359.32,57.53 C357.94,56.43 356.57,55.19 356.02,54.22 C355.47,53.26 354.64,53.12 356.02,51.74 Z" fill="#123640" opacity="1.0"/>
<clipPath id="bs2"><path d="M320.48,57.53 C321.31,56.15 322.96,60.15 324.61,62.49 C326.26,64.83 328.47,69.24 330.40,71.58 C332.33,73.92 334.39,75.71 336.18,76.54 C337.97,77.36 339.35,76.95 341.14,76.54 C342.93,76.12 344.86,74.61 346.93,74.06 C348.99,73.51 351.47,73.51 353.54,73.23 C355.60,72.96 357.26,72.96 359.32,72.40 C361.39,71.85 363.73,69.79 365.93,69.93 C368.14,70.06 370.34,72.13 372.55,73.23 C374.75,74.33 377.23,75.02 379.16,76.54 C381.09,78.05 382.74,80.26 384.12,82.32 C385.49,84.39 386.32,87.28 387.42,88.93 C388.52,90.59 389.35,91.14 390.73,92.24 C392.10,93.34 394.31,93.89 395.69,95.55 C397.06,97.20 398.72,99.95 398.99,102.16 C399.27,104.36 398.30,106.84 397.34,108.77 C396.37,110.70 394.86,112.63 393.21,113.73 C391.55,114.83 389.49,115.38 387.42,115.38 C385.36,115.38 383.01,114.28 380.81,113.73 C378.61,113.18 376.40,112.07 374.20,112.07 C371.99,112.07 369.52,112.90 367.59,113.73 C365.66,114.55 364.28,115.93 362.63,117.03 C360.98,118.13 359.32,119.51 357.67,120.34 C356.02,121.17 354.64,122.27 352.71,121.99 C350.78,121.72 348.03,120.06 346.10,118.69 C344.17,117.31 343.07,115.10 341.14,113.73 C339.21,112.35 336.73,111.25 334.53,110.42 C332.33,109.60 330.12,109.32 327.92,108.77 C325.71,108.22 322.68,109.32 321.31,107.12 C319.93,104.91 319.65,99.68 319.65,95.55 C319.65,91.41 321.31,86.45 321.31,82.32 C321.31,78.19 319.79,74.88 319.65,70.75 C319.52,66.62 319.65,58.91 320.48,57.53 Z"/><path d="M322.96,47.61 C323.79,46.92 325.99,45.96 327.92,46.79 C329.85,47.61 332.60,50.23 334.53,52.57 C336.46,54.91 338.39,58.08 339.49,60.83 C340.59,63.59 341.00,66.76 341.14,69.10 C341.28,71.44 341.00,73.78 340.31,74.88 C339.63,75.99 338.11,76.40 337.01,75.71 C335.91,75.02 334.94,72.68 333.70,70.75 C332.46,68.82 331.09,66.62 329.57,64.14 C328.06,61.66 325.71,58.08 324.61,55.88 C323.51,53.67 323.23,52.29 322.96,50.92 C322.68,49.54 322.13,48.30 322.96,47.61 Z"/><path d="M342.79,45.13 C343.62,44.03 346.10,43.34 347.75,44.31 C349.40,45.27 351.20,48.44 352.71,50.92 C354.23,53.40 355.88,56.43 356.84,59.18 C357.81,61.94 358.36,65.24 358.50,67.45 C358.63,69.65 358.36,71.72 357.67,72.40 C356.98,73.09 355.60,72.68 354.36,71.58 C353.12,70.48 351.61,67.86 350.23,65.79 C348.85,63.73 347.34,61.66 346.10,59.18 C344.86,56.70 343.34,53.26 342.79,50.92 C342.24,48.58 341.97,46.23 342.79,45.13 Z"/><path d="M356.02,51.74 C357.39,50.37 362.35,46.79 364.28,45.96 C366.21,45.13 366.21,45.96 367.59,46.79 C368.96,47.61 370.34,49.40 372.55,50.92 C374.75,52.43 378.88,53.95 380.81,55.88 C382.74,57.80 383.70,60.42 384.12,62.49 C384.53,64.55 384.12,67.17 383.29,68.27 C382.46,69.37 380.67,69.51 379.16,69.10 C377.64,68.69 375.58,66.62 374.20,65.79 C372.82,64.97 372.55,64.97 370.89,64.14 C369.24,63.31 366.21,61.94 364.28,60.83 C362.35,59.73 360.70,58.63 359.32,57.53 C357.94,56.43 356.57,55.19 356.02,54.22 C355.47,53.26 354.64,53.12 356.02,51.74 Z"/></clipPath>
<g clip-path="url(#bs2)"><rect x="290.65" y="13.650000000000006" width="140" height="140" fill="#000" filter="url(#stk)" opacity="0.42" transform="rotate(55,360.65,83.65)"/></g>
<ellipse cx="393.3" cy="66.2" rx="22" ry="40" fill="#3a1840" opacity="0.45" filter="url(#bl3)"/>
<ellipse cx="328.0" cy="118.1" rx="20" ry="12" fill="#3a1840" opacity="0.4" filter="url(#bl3)"/>
<rect x="318.00" y="41.20" width="85.30" height="84.90" fill="#000" stroke="none" stroke-width="1" filter="url(#nzb)" opacity="0.16"/>
<rect x="318.00" y="41.20" width="85.30" height="84.90" fill="#000" stroke="none" stroke-width="1" filter="url(#nzd)" opacity="0.35"/>
<path d="M320.48,57.53 C321.31,56.15 322.96,60.15 324.61,62.49 C326.26,64.83 328.47,69.24 330.40,71.58 C332.33,73.92 334.39,75.71 336.18,76.54 C337.97,77.36 339.35,76.95 341.14,76.54 C342.93,76.12 344.86,74.61 346.93,74.06 C348.99,73.51 351.47,73.51 353.54,73.23 C355.60,72.96 357.26,72.96 359.32,72.40 C361.39,71.85 363.73,69.79 365.93,69.93 C368.14,70.06 370.34,72.13 372.55,73.23 C374.75,74.33 377.23,75.02 379.16,76.54 C381.09,78.05 382.74,80.26 384.12,82.32 C385.49,84.39 386.32,87.28 387.42,88.93 C388.52,90.59 389.35,91.14 390.73,92.24 C392.10,93.34 394.31,93.89 395.69,95.55 C397.06,97.20 398.72,99.95 398.99,102.16 C399.27,104.36 398.30,106.84 397.34,108.77 C396.37,110.70 394.86,112.63 393.21,113.73 C391.55,114.83 389.49,115.38 387.42,115.38 C385.36,115.38 383.01,114.28 380.81,113.73 C378.61,113.18 376.40,112.07 374.20,112.07 C371.99,112.07 369.52,112.90 367.59,113.73 C365.66,114.55 364.28,115.93 362.63,117.03 C360.98,118.13 359.32,119.51 357.67,120.34 C356.02,121.17 354.64,122.27 352.71,121.99 C350.78,121.72 348.03,120.06 346.10,118.69 C344.17,117.31 343.07,115.10 341.14,113.73 C339.21,112.35 336.73,111.25 334.53,110.42 C332.33,109.60 330.12,109.32 327.92,108.77 C325.71,108.22 322.68,109.32 321.31,107.12 C319.93,104.91 319.65,99.68 319.65,95.55 C319.65,91.41 321.31,86.45 321.31,82.32 C321.31,78.19 319.79,74.88 319.65,70.75 C319.52,66.62 319.65,58.91 320.48,57.53 Z" fill="none" stroke="#eef3f8" stroke-width="1.2" stroke-dasharray="2.4,1.4"/>
<path d="M322.96,47.61 C323.79,46.92 325.99,45.96 327.92,46.79 C329.85,47.61 332.60,50.23 334.53,52.57 C336.46,54.91 338.39,58.08 339.49,60.83 C340.59,63.59 341.00,66.76 341.14,69.10 C341.28,71.44 341.00,73.78 340.31,74.88 C339.63,75.99 338.11,76.40 337.01,75.71 C335.91,75.02 334.94,72.68 333.70,70.75 C332.46,68.82 331.09,66.62 329.57,64.14 C328.06,61.66 325.71,58.08 324.61,55.88 C323.51,53.67 323.23,52.29 322.96,50.92 C322.68,49.54 322.13,48.30 322.96,47.61 Z" fill="none" stroke="#eef3f8" stroke-width="1.2" stroke-dasharray="2.4,1.4"/>
<path d="M342.79,45.13 C343.62,44.03 346.10,43.34 347.75,44.31 C349.40,45.27 351.20,48.44 352.71,50.92 C354.23,53.40 355.88,56.43 356.84,59.18 C357.81,61.94 358.36,65.24 358.50,67.45 C358.63,69.65 358.36,71.72 357.67,72.40 C356.98,73.09 355.60,72.68 354.36,71.58 C353.12,70.48 351.61,67.86 350.23,65.79 C348.85,63.73 347.34,61.66 346.10,59.18 C344.86,56.70 343.34,53.26 342.79,50.92 C342.24,48.58 341.97,46.23 342.79,45.13 Z" fill="none" stroke="#eef3f8" stroke-width="1.2" stroke-dasharray="2.4,1.4"/>
<path d="M356.02,51.74 C357.39,50.37 362.35,46.79 364.28,45.96 C366.21,45.13 366.21,45.96 367.59,46.79 C368.96,47.61 370.34,49.40 372.55,50.92 C374.75,52.43 378.88,53.95 380.81,55.88 C382.74,57.80 383.70,60.42 384.12,62.49 C384.53,64.55 384.12,67.17 383.29,68.27 C382.46,69.37 380.67,69.51 379.16,69.10 C377.64,68.69 375.58,66.62 374.20,65.79 C372.82,64.97 372.55,64.97 370.89,64.14 C369.24,63.31 366.21,61.94 364.28,60.83 C362.35,59.73 360.70,58.63 359.32,57.53 C357.94,56.43 356.57,55.19 356.02,54.22 C355.47,53.26 354.64,53.12 356.02,51.74 Z" fill="none" stroke="#eef3f8" stroke-width="1.2" stroke-dasharray="2.4,1.4"/>
</g>
<rect x="386.30" y="122.00" width="14.20" height="2.30" fill="#f4f4f4" stroke="none" stroke-width="1" />
<clipPath id="bc3"><rect x="406.0" y="41.2" width="84.5" height="84.89999999999999"/></clipPath>
<g clip-path="url(#bc3)">
<rect x="406.00" y="41.20" width="84.50" height="84.90" fill="#0c0c18" stroke="none" stroke-width="1" />
<path d="M419.44,44.06 C421.03,41.89 428.53,42.47 432.42,42.33 C436.32,42.18 439.06,42.90 442.81,43.19 C446.56,43.48 451.75,43.48 454.92,44.06 C458.09,44.63 459.82,46.65 461.84,46.65 C463.86,46.65 465.31,44.35 467.04,44.06 C468.77,43.77 471.36,43.05 472.23,44.92 C473.09,46.80 472.81,52.42 472.23,55.31 C471.65,58.19 470.21,60.07 468.77,62.23 C467.32,64.39 465.02,66.56 463.57,68.29 C462.13,70.02 460.26,71.03 460.11,72.61 C459.97,74.20 461.99,75.79 462.71,77.81 C463.43,79.83 465.16,83.72 464.44,84.73 C463.72,85.74 459.97,84.58 458.38,83.86 C456.80,83.14 456.07,81.12 454.92,80.40 C453.77,79.68 453.19,79.10 451.46,79.54 C449.73,79.97 446.56,82.85 444.54,83.00 C442.52,83.14 441.08,81.12 439.34,80.40 C437.61,79.68 436.17,79.83 434.15,78.67 C432.13,77.52 429.25,75.07 427.23,73.48 C425.21,71.89 423.19,71.32 422.04,69.15 C420.88,66.99 420.16,62.81 420.31,60.50 C420.45,58.19 423.05,58.05 422.90,55.31 C422.76,52.57 417.86,46.22 419.44,44.06 Z" fill="#1e3d78" opacity="1.0"/>
<path d="M406.46,62.23 C407.62,60.21 411.65,59.92 413.38,60.50 C415.11,61.08 415.69,63.67 416.85,65.69 C418.00,67.71 419.44,70.31 420.31,72.61 C421.17,74.92 421.32,76.94 422.04,79.54 C422.76,82.13 424.06,85.88 424.63,88.19 C425.21,90.50 426.22,91.94 425.50,93.38 C424.78,94.82 422.04,95.40 420.31,96.84 C418.58,98.29 416.85,101.17 415.11,102.04 C413.38,102.90 411.22,104.06 409.92,102.04 C408.62,100.02 407.90,94.82 407.33,89.92 C406.75,85.02 406.61,77.23 406.46,72.61 C406.32,68.00 405.31,64.25 406.46,62.23 Z" fill="#1b5868" opacity="1.0"/>
<path d="M416.85,96.84 C417.13,95.40 422.33,94.54 425.50,93.38 C428.67,92.23 432.71,89.92 435.88,89.92 C439.06,89.92 441.94,92.52 444.54,93.38 C447.13,94.25 449.15,94.39 451.46,95.11 C453.77,95.83 455.79,96.56 458.38,97.71 C460.98,98.86 465.59,100.45 467.04,102.04 C468.48,103.62 467.90,105.79 467.04,107.23 C466.17,108.67 463.00,109.54 461.84,110.69 C460.69,111.84 458.96,113.86 460.11,114.15 C461.27,114.44 466.46,113.00 468.77,112.42 C471.07,111.84 471.07,110.98 473.96,110.69 C476.84,110.40 484.05,109.25 486.07,110.69 C488.09,112.13 486.94,117.32 486.07,119.34 C485.21,121.36 483.19,122.08 480.88,122.80 C478.57,123.53 475.69,123.38 472.23,123.67 C468.77,123.96 464.44,124.39 460.11,124.54 C455.79,124.68 449.15,125.40 446.27,124.54 C443.38,123.67 443.38,121.36 442.81,119.34 C442.23,117.32 443.67,113.86 442.81,112.42 C441.94,110.98 439.34,110.40 437.61,110.69 C435.88,110.98 433.86,113.86 432.42,114.15 C430.98,114.44 429.54,113.57 428.96,112.42 C428.38,111.27 429.83,108.96 428.96,107.23 C428.10,105.50 425.79,103.77 423.77,102.04 C421.75,100.31 416.56,98.29 416.85,96.84 Z" fill="#1a4e6c" opacity="1.0"/>
<clipPath id="bs3"><path d="M419.44,44.06 C421.03,41.89 428.53,42.47 432.42,42.33 C436.32,42.18 439.06,42.90 442.81,43.19 C446.56,43.48 451.75,43.48 454.92,44.06 C458.09,44.63 459.82,46.65 461.84,46.65 C463.86,46.65 465.31,44.35 467.04,44.06 C468.77,43.77 471.36,43.05 472.23,44.92 C473.09,46.80 472.81,52.42 472.23,55.31 C471.65,58.19 470.21,60.07 468.77,62.23 C467.32,64.39 465.02,66.56 463.57,68.29 C462.13,70.02 460.26,71.03 460.11,72.61 C459.97,74.20 461.99,75.79 462.71,77.81 C463.43,79.83 465.16,83.72 464.44,84.73 C463.72,85.74 459.97,84.58 458.38,83.86 C456.80,83.14 456.07,81.12 454.92,80.40 C453.77,79.68 453.19,79.10 451.46,79.54 C449.73,79.97 446.56,82.85 444.54,83.00 C442.52,83.14 441.08,81.12 439.34,80.40 C437.61,79.68 436.17,79.83 434.15,78.67 C432.13,77.52 429.25,75.07 427.23,73.48 C425.21,71.89 423.19,71.32 422.04,69.15 C420.88,66.99 420.16,62.81 420.31,60.50 C420.45,58.19 423.05,58.05 422.90,55.31 C422.76,52.57 417.86,46.22 419.44,44.06 Z"/><path d="M406.46,62.23 C407.62,60.21 411.65,59.92 413.38,60.50 C415.11,61.08 415.69,63.67 416.85,65.69 C418.00,67.71 419.44,70.31 420.31,72.61 C421.17,74.92 421.32,76.94 422.04,79.54 C422.76,82.13 424.06,85.88 424.63,88.19 C425.21,90.50 426.22,91.94 425.50,93.38 C424.78,94.82 422.04,95.40 420.31,96.84 C418.58,98.29 416.85,101.17 415.11,102.04 C413.38,102.90 411.22,104.06 409.92,102.04 C408.62,100.02 407.90,94.82 407.33,89.92 C406.75,85.02 406.61,77.23 406.46,72.61 C406.32,68.00 405.31,64.25 406.46,62.23 Z"/><path d="M416.85,96.84 C417.13,95.40 422.33,94.54 425.50,93.38 C428.67,92.23 432.71,89.92 435.88,89.92 C439.06,89.92 441.94,92.52 444.54,93.38 C447.13,94.25 449.15,94.39 451.46,95.11 C453.77,95.83 455.79,96.56 458.38,97.71 C460.98,98.86 465.59,100.45 467.04,102.04 C468.48,103.62 467.90,105.79 467.04,107.23 C466.17,108.67 463.00,109.54 461.84,110.69 C460.69,111.84 458.96,113.86 460.11,114.15 C461.27,114.44 466.46,113.00 468.77,112.42 C471.07,111.84 471.07,110.98 473.96,110.69 C476.84,110.40 484.05,109.25 486.07,110.69 C488.09,112.13 486.94,117.32 486.07,119.34 C485.21,121.36 483.19,122.08 480.88,122.80 C478.57,123.53 475.69,123.38 472.23,123.67 C468.77,123.96 464.44,124.39 460.11,124.54 C455.79,124.68 449.15,125.40 446.27,124.54 C443.38,123.67 443.38,121.36 442.81,119.34 C442.23,117.32 443.67,113.86 442.81,112.42 C441.94,110.98 439.34,110.40 437.61,110.69 C435.88,110.98 433.86,113.86 432.42,114.15 C430.98,114.44 429.54,113.57 428.96,112.42 C428.38,111.27 429.83,108.96 428.96,107.23 C428.10,105.50 425.79,103.77 423.77,102.04 C421.75,100.31 416.56,98.29 416.85,96.84 Z"/></clipPath>
<g clip-path="url(#bs3)"><ellipse cx="440" cy="60" rx="20" ry="14" fill="#2a48a0" opacity="0.5" filter="url(#bl3)"/><ellipse cx="415" cy="80" rx="6" ry="18" fill="#2a8098" opacity="0.5" filter="url(#bl3)"/></g>
<g clip-path="url(#bs3)"><rect x="378.25" y="13.650000000000006" width="140" height="140" fill="#000" filter="url(#spk)" opacity="0.42" transform="rotate(0,448.25,83.65)"/></g>
<ellipse cx="480.5" cy="91.2" rx="22" ry="40" fill="#3a1840" opacity="0.45" filter="url(#bl3)"/>
<rect x="406.00" y="41.20" width="84.50" height="84.90" fill="#000" stroke="none" stroke-width="1" filter="url(#nzb)" opacity="0.16"/>
<rect x="406.00" y="41.20" width="84.50" height="84.90" fill="#000" stroke="none" stroke-width="1" filter="url(#nzd)" opacity="0.35"/>
<path d="M419.44,44.06 C421.03,41.89 428.53,42.47 432.42,42.33 C436.32,42.18 439.06,42.90 442.81,43.19 C446.56,43.48 451.75,43.48 454.92,44.06 C458.09,44.63 459.82,46.65 461.84,46.65 C463.86,46.65 465.31,44.35 467.04,44.06 C468.77,43.77 471.36,43.05 472.23,44.92 C473.09,46.80 472.81,52.42 472.23,55.31 C471.65,58.19 470.21,60.07 468.77,62.23 C467.32,64.39 465.02,66.56 463.57,68.29 C462.13,70.02 460.26,71.03 460.11,72.61 C459.97,74.20 461.99,75.79 462.71,77.81 C463.43,79.83 465.16,83.72 464.44,84.73 C463.72,85.74 459.97,84.58 458.38,83.86 C456.80,83.14 456.07,81.12 454.92,80.40 C453.77,79.68 453.19,79.10 451.46,79.54 C449.73,79.97 446.56,82.85 444.54,83.00 C442.52,83.14 441.08,81.12 439.34,80.40 C437.61,79.68 436.17,79.83 434.15,78.67 C432.13,77.52 429.25,75.07 427.23,73.48 C425.21,71.89 423.19,71.32 422.04,69.15 C420.88,66.99 420.16,62.81 420.31,60.50 C420.45,58.19 423.05,58.05 422.90,55.31 C422.76,52.57 417.86,46.22 419.44,44.06 Z" fill="none" stroke="#eef3f8" stroke-width="1.2" stroke-dasharray="2.4,1.4"/>
<path d="M406.46,62.23 C407.62,60.21 411.65,59.92 413.38,60.50 C415.11,61.08 415.69,63.67 416.85,65.69 C418.00,67.71 419.44,70.31 420.31,72.61 C421.17,74.92 421.32,76.94 422.04,79.54 C422.76,82.13 424.06,85.88 424.63,88.19 C425.21,90.50 426.22,91.94 425.50,93.38 C424.78,94.82 422.04,95.40 420.31,96.84 C418.58,98.29 416.85,101.17 415.11,102.04 C413.38,102.90 411.22,104.06 409.92,102.04 C408.62,100.02 407.90,94.82 407.33,89.92 C406.75,85.02 406.61,77.23 406.46,72.61 C406.32,68.00 405.31,64.25 406.46,62.23 Z" fill="none" stroke="#eef3f8" stroke-width="1.2" stroke-dasharray="2.4,1.4"/>
<path d="M416.85,96.84 C417.13,95.40 422.33,94.54 425.50,93.38 C428.67,92.23 432.71,89.92 435.88,89.92 C439.06,89.92 441.94,92.52 444.54,93.38 C447.13,94.25 449.15,94.39 451.46,95.11 C453.77,95.83 455.79,96.56 458.38,97.71 C460.98,98.86 465.59,100.45 467.04,102.04 C468.48,103.62 467.90,105.79 467.04,107.23 C466.17,108.67 463.00,109.54 461.84,110.69 C460.69,111.84 458.96,113.86 460.11,114.15 C461.27,114.44 466.46,113.00 468.77,112.42 C471.07,111.84 471.07,110.98 473.96,110.69 C476.84,110.40 484.05,109.25 486.07,110.69 C488.09,112.13 486.94,117.32 486.07,119.34 C485.21,121.36 483.19,122.08 480.88,122.80 C478.57,123.53 475.69,123.38 472.23,123.67 C468.77,123.96 464.44,124.39 460.11,124.54 C455.79,124.68 449.15,125.40 446.27,124.54 C443.38,123.67 443.38,121.36 442.81,119.34 C442.23,117.32 443.67,113.86 442.81,112.42 C441.94,110.98 439.34,110.40 437.61,110.69 C435.88,110.98 433.86,113.86 432.42,114.15 C430.98,114.44 429.54,113.57 428.96,112.42 C428.38,111.27 429.83,108.96 428.96,107.23 C428.10,105.50 425.79,103.77 423.77,102.04 C421.75,100.31 416.56,98.29 416.85,96.84 Z" fill="none" stroke="#eef3f8" stroke-width="1.2" stroke-dasharray="2.4,1.4"/>
</g>
<rect x="473.50" y="122.00" width="14.20" height="2.30" fill="#f4f4f4" stroke="none" stroke-width="1" />
<text x="144.00" y="52.20" font-size="7.9" text-anchor="start" fill="#dcdcd4" stroke="#dcdcd4" stroke-width="0.22" >Stroma</text>
<text x="196.50" y="68.00" font-size="7.9" text-anchor="start" fill="#dcdcd4" stroke="#dcdcd4" stroke-width="0.22" >Tumor</text>
<text x="103.30" y="330.90" font-size="14.5" text-anchor="start" fill="#000" stroke="#000" stroke-width="0.22" font-weight="bold" >F</text>
<text x="233.80" y="335.80" font-size="7.9" text-anchor="middle" fill="#231f20" stroke="#231f20" stroke-width="0.22" >NPC</text>
<line x1="118.00" y1="341.50" x2="345.40" y2="341.50" stroke="#231f20" stroke-width="0.9" />
<text x="144.60" y="349.60" font-size="7.8" text-anchor="middle" fill="#231f20" stroke="#231f20" stroke-width="0.22" >H&amp;E</text>
<text x="207.40" y="349.60" font-size="7.8" text-anchor="middle" fill="#231f20" stroke="#231f20" stroke-width="0.22" >EBERs</text>
<text x="263.50" y="349.60" font-size="7.8" text-anchor="middle" fill="#231f20" stroke="#231f20" stroke-width="0.22" >F3</text>
<text x="318.50" y="349.60" font-size="7.8" text-anchor="middle" fill="#231f20" stroke="#231f20" stroke-width="0.22" >CD41</text>
<line x1="113.50" y1="354.50" x2="113.50" y2="467.50" stroke="#333" stroke-width="1.3" />
<line x1="113.50" y1="471.50" x2="113.50" y2="586.80" stroke="#333" stroke-width="1.3" />
<text transform="translate(110.60,409.00) rotate(-90)" font-size="7.8" text-anchor="middle" fill="#231f20" stroke="#231f20" stroke-width="0.22" >EBV–</text>
<text transform="translate(110.60,529.00) rotate(-90)" font-size="7.8" text-anchor="middle" fill="#231f20" stroke="#231f20" stroke-width="0.22" >EBV+</text>
<defs><filter id="bl1"><feGaussianBlur stdDeviation="2"/></filter><filter id="bl3"><feGaussianBlur stdDeviation="4"/></filter></defs>
<clipPath id="fc0"><rect x="116.0" y="352.9" width="57.80000000000001" height="57.5"/></clipPath>
<g clip-path="url(#fc0)">
<rect x="116.00" y="352.90" width="57.80" height="57.50" fill="#b3b2b3" stroke="none" stroke-width="1" />
<ellipse cx="166" cy="362" rx="5" ry="4" fill="#c89aa8" opacity="0.5" filter="url(#bl1)" transform="rotate(0,166,362)"/>
<ellipse cx="122" cy="360" rx="6" ry="6" fill="#b4b8a8" opacity="0.6" filter="url(#bl1)" transform="rotate(0,122,360)"/>
<rect x="116.00" y="352.90" width="57.80" height="57.50" fill="#fff" stroke="none" stroke-width="1" filter="url(#nz)" opacity="0.25"/>
<rect x="116.00" y="352.90" width="57.80" height="57.50" fill="#000" stroke="none" stroke-width="1" filter="url(#nzd)" opacity="0.12"/>
</g>
<clipPath id="fc1"><rect x="175.1" y="352.9" width="57.400000000000006" height="57.5"/></clipPath>
<g clip-path="url(#fc1)">
<rect x="175.10" y="352.90" width="57.40" height="57.50" fill="#b6b5b3" stroke="none" stroke-width="1" />
<ellipse cx="200" cy="380" rx="20" ry="25" fill="#b9b6b2" opacity="0.6" filter="url(#bl3)" transform="rotate(0,200,380)"/>
<rect x="175.10" y="352.90" width="57.40" height="57.50" fill="#fff" stroke="none" stroke-width="1" filter="url(#nz)" opacity="0.25"/>
<rect x="175.10" y="352.90" width="57.40" height="57.50" fill="#000" stroke="none" stroke-width="1" filter="url(#nzd)" opacity="0.12"/>
</g>
<clipPath id="fc2"><rect x="234.0" y="352.9" width="57.19999999999999" height="57.5"/></clipPath>
<g clip-path="url(#fc2)">
<rect x="234.00" y="352.90" width="57.20" height="57.50" fill="#b4b1ae" stroke="none" stroke-width="1" />
<ellipse cx="257.5" cy="376.5" rx="1.8" ry="1.8" fill="#9a4e14" opacity="1" filter="url(#bl1)" transform="rotate(0,257.5,376.5)"/>
<ellipse cx="257.5" cy="376.5" rx="3" ry="3" fill="#a86a3a" opacity="0.5" filter="url(#bl1)" transform="rotate(0,257.5,376.5)"/>
<ellipse cx="243" cy="395" rx="4" ry="10" fill="#d2d2d2" opacity="0.7" filter="url(#bl1)" transform="rotate(20,243,395)"/>
<ellipse cx="240" cy="384" rx="2" ry="5" fill="#d6d6d6" opacity="0.6" filter="url(#bl1)" transform="rotate(0,240,384)"/>
<rect x="234.00" y="352.90" width="57.20" height="57.50" fill="#fff" stroke="none" stroke-width="1" filter="url(#nz)" opacity="0.25"/>
<rect x="234.00" y="352.90" width="57.20" height="57.50" fill="#000" stroke="none" stroke-width="1" filter="url(#nzd)" opacity="0.12"/>
</g>
<clipPath id="fc3"><rect x="292.5" y="352.9" width="57.5" height="57.5"/></clipPath>
<g clip-path="url(#fc3)">
<rect x="292.50" y="352.90" width="57.50" height="57.50" fill="#b2b2b7" stroke="none" stroke-width="1" />
<ellipse cx="310" cy="370" rx="15" ry="12" fill="#b2b2b6" opacity="0.5" filter="url(#bl3)" transform="rotate(0,310,370)"/>
<rect x="292.50" y="352.90" width="57.50" height="57.50" fill="#fff" stroke="none" stroke-width="1" filter="url(#nz)" opacity="0.25"/>
<rect x="292.50" y="352.90" width="57.50" height="57.50" fill="#000" stroke="none" stroke-width="1" filter="url(#nzd)" opacity="0.12"/>
</g>
<clipPath id="fc4"><rect x="116.0" y="412.3" width="57.80000000000001" height="56.69999999999999"/></clipPath>
<g clip-path="url(#fc4)">
<rect x="116.00" y="412.30" width="57.80" height="56.70" fill="#b0aeae" stroke="none" stroke-width="1" />
<ellipse cx="143" cy="440" rx="15" ry="20" fill="#b8a8b8" opacity="0.7" filter="url(#bl3)" transform="rotate(0,143,440)"/>
<rect x="116.00" y="412.30" width="57.80" height="56.70" fill="#fff" stroke="none" stroke-width="1" filter="url(#nz)" opacity="0.35"/>
<rect x="116.00" y="412.30" width="57.80" height="56.70" fill="#000" stroke="none" stroke-width="1" filter="url(#nzd)" opacity="0.25"/>
</g>
<clipPath id="fc5"><rect x="175.1" y="412.3" width="57.400000000000006" height="56.69999999999999"/></clipPath>
<g clip-path="url(#fc5)">
<rect x="175.10" y="412.30" width="57.40" height="56.70" fill="#b2b2b0" stroke="none" stroke-width="1" />
<rect x="175.10" y="412.30" width="57.40" height="56.70" fill="#fff" stroke="none" stroke-width="1" filter="url(#nz)" opacity="0.35"/>
<rect x="175.10" y="412.30" width="57.40" height="56.70" fill="#000" stroke="none" stroke-width="1" filter="url(#nzd)" opacity="0.25"/>
</g>
<clipPath id="fc6"><rect x="234.0" y="412.3" width="57.19999999999999" height="56.69999999999999"/></clipPath>
<g clip-path="url(#fc6)">
<rect x="234.00" y="412.30" width="57.20" height="56.70" fill="#b1afac" stroke="none" stroke-width="1" />
<rect x="234.00" y="412.30" width="57.20" height="56.70" fill="#fff" stroke="none" stroke-width="1" filter="url(#nz)" opacity="0.35"/>
<rect x="234.00" y="412.30" width="57.20" height="56.70" fill="#000" stroke="none" stroke-width="1" filter="url(#nzd)" opacity="0.25"/>
</g>
<clipPath id="fc7"><rect x="292.5" y="412.3" width="57.5" height="56.69999999999999"/></clipPath>
<g clip-path="url(#fc7)">
<rect x="292.50" y="412.30" width="57.50" height="56.70" fill="#b0b0b4" stroke="none" stroke-width="1" />
<ellipse cx="340" cy="425" rx="8" ry="20" fill="#c9a8b0" opacity="0.5" filter="url(#bl3)" transform="rotate(0,340,425)"/>
<rect x="292.50" y="412.30" width="57.50" height="56.70" fill="#fff" stroke="none" stroke-width="1" filter="url(#nz)" opacity="0.35"/>
<rect x="292.50" y="412.30" width="57.50" height="56.70" fill="#000" stroke="none" stroke-width="1" filter="url(#nzd)" opacity="0.25"/>
</g>
<clipPath id="fc8"><rect x="116.0" y="471.2" width="57.80000000000001" height="56.900000000000034"/></clipPath>
<g clip-path="url(#fc8)">
<rect x="116.00" y="471.20" width="57.80" height="56.90" fill="#c2e2c4" stroke="none" stroke-width="1" />
<ellipse cx="145" cy="500.5" rx="28" ry="30" fill="#a797bc" opacity="1" transform="rotate(0,145,500.5)"/>
<ellipse cx="127" cy="492" rx="6" ry="12" fill="#c9aab8" opacity="0.8" filter="url(#bl1)" transform="rotate(0,127,492)"/>
<ellipse cx="132" cy="516" rx="9" ry="8" fill="#b0b4c0" opacity="0.8" filter="url(#bl1)" transform="rotate(0,132,516)"/>
<ellipse cx="155" cy="510" rx="10" ry="12" fill="#9c8ab8" opacity="0.7" filter="url(#bl1)" transform="rotate(0,155,510)"/>
<ellipse cx="140" cy="488" rx="5" ry="3" fill="#d8d0e0" opacity="0.7" filter="url(#bl1)" transform="rotate(0,140,488)"/>
<rect x="116.00" y="471.20" width="57.80" height="56.90" fill="#fff" stroke="none" stroke-width="1" filter="url(#nz)" opacity="0.25"/>
<rect x="116.00" y="471.20" width="57.80" height="56.90" fill="#000" stroke="none" stroke-width="1" filter="url(#nzd)" opacity="0.12"/>
</g>
<clipPath id="fc9"><rect x="175.1" y="471.2" width="57.400000000000006" height="56.900000000000034"/></clipPath>
<g clip-path="url(#fc9)">
<rect x="175.10" y="471.20" width="57.40" height="56.90" fill="#dfe2e3" stroke="none" stroke-width="1" />
<ellipse cx="204" cy="500.5" rx="27.5" ry="29" fill="#bccbe0" opacity="1" transform="rotate(0,204,500.5)"/>
<ellipse cx="215" cy="490" rx="10" ry="14" fill="#c6d2e4" opacity="0.7" filter="url(#bl1)" transform="rotate(0,215,490)"/>
<path d="M184.48,489.39 C184.85,488.28 186.24,488.19 187.26,488.84 C188.29,489.49 189.31,491.44 190.61,493.30 C191.91,495.15 193.39,497.76 195.07,499.99 C196.74,502.22 198.88,504.63 200.64,506.67 C202.41,508.72 204.73,510.58 205.66,512.25 C206.59,513.92 206.87,515.78 206.22,516.71 C205.56,517.64 203.24,518.19 201.76,517.82 C200.27,517.45 198.78,516.15 197.30,514.48 C195.81,512.81 194.32,510.02 192.84,507.79 C191.35,505.56 189.68,503.14 188.38,501.10 C187.08,499.06 185.68,497.48 185.03,495.53 C184.38,493.58 184.10,490.51 184.48,489.39 Z" fill="#a86c3c" opacity="1" />
<path d="M192.84,483.26 C193.39,482.15 195.62,482.15 197.30,482.15 C198.97,482.15 201.85,482.33 202.87,483.26 C203.89,484.19 203.80,486.24 203.43,487.72 C203.06,489.21 201.66,491.44 200.64,492.18 C199.62,492.92 198.41,492.74 197.30,492.18 C196.18,491.62 194.70,490.32 193.95,488.84 C193.21,487.35 192.28,484.38 192.84,483.26 Z" fill="#b48050" opacity="1" />
<path d="M203.43,498.87 C204.17,497.76 206.87,496.27 208.44,496.08 C210.02,495.90 212.35,496.55 212.90,497.76 C213.46,498.96 212.72,502.22 211.79,503.33 C210.86,504.44 208.63,504.54 207.33,504.44 C206.03,504.35 204.64,503.70 203.99,502.77 C203.34,501.84 202.68,499.99 203.43,498.87 Z" fill="#a86c3c" opacity="1" />
<path d="M207.89,518.94 C208.63,518.01 210.40,517.45 211.79,517.82 C213.18,518.19 215.32,519.87 216.25,521.17 C217.18,522.47 218.11,524.79 217.36,525.63 C216.62,526.46 213.46,526.56 211.79,526.18 C210.12,525.81 207.98,524.60 207.33,523.40 C206.68,522.19 207.14,519.87 207.89,518.94 Z" fill="#9c5e32" opacity="1" />
<ellipse cx="190" cy="505" rx="3" ry="4" fill="#7a4020" opacity="0.6" filter="url(#bl1)" transform="rotate(0,190,505)"/>
<ellipse cx="198" cy="512" rx="3" ry="3" fill="#7a4020" opacity="0.6" filter="url(#bl1)" transform="rotate(0,198,512)"/>
<rect x="175.10" y="471.20" width="57.40" height="56.90" fill="#fff" stroke="none" stroke-width="1" filter="url(#nz)" opacity="0.25"/>
<rect x="175.10" y="471.20" width="57.40" height="56.90" fill="#000" stroke="none" stroke-width="1" filter="url(#nzd)" opacity="0.12"/>
</g>
<clipPath id="fc10"><rect x="234.0" y="471.2" width="57.19999999999999" height="56.900000000000034"/></clipPath>
<g clip-path="url(#fc10)">
<rect x="234.00" y="471.20" width="57.20" height="56.90" fill="#e2e8ea" stroke="none" stroke-width="1" />
<ellipse cx="264.5" cy="500" rx="27" ry="29.5" fill="#c9a98a" opacity="1" transform="rotate(0,264.5,500)"/>
<ellipse cx="263" cy="500" rx="22" ry="25" fill="#c6bfcc" opacity="0.95" filter="url(#bl1)" transform="rotate(0,263,500)"/>
<ellipse cx="250" cy="497" rx="3" ry="16" fill="#e6e2e6" opacity="0.6" filter="url(#bl1)" transform="rotate(15,250,497)"/>
<ellipse cx="287" cy="500" rx="2" ry="12" fill="#b8906c" opacity="0.7" filter="url(#bl1)" transform="rotate(0,287,500)"/>
<rect x="234.00" y="471.20" width="57.20" height="56.90" fill="#fff" stroke="none" stroke-width="1" filter="url(#nz)" opacity="0.25"/>
<rect x="234.00" y="471.20" width="57.20" height="56.90" fill="#000" stroke="none" stroke-width="1" filter="url(#nzd)" opacity="0.12"/>
</g>
<clipPath id="fc11"><rect x="292.5" y="471.2" width="57.5" height="56.900000000000034"/></clipPath>
<g clip-path="url(#fc11)">
<rect x="292.50" y="471.20" width="57.50" height="56.90" fill="#d8d0b6" stroke="none" stroke-width="1" />
<ellipse cx="328" cy="501" rx="26" ry="32" fill="#afb0c9" opacity="1" transform="rotate(0,328,501)"/>
<ellipse cx="303" cy="498" rx="3" ry="26" fill="#d6ccb0" opacity="0.8" filter="url(#bl1)" transform="rotate(8,303,498)"/>
<path d="M313.00,486.00 C313.67,485.00 317.00,484.33 318.00,485.00 C319.00,485.67 319.67,489.00 319.00,490.00 C318.33,491.00 315.00,491.67 314.00,491.00 C313.00,490.33 312.33,487.00 313.00,486.00 Z" fill="#8d4c22" opacity="1" />
<path d="M309.00,507.00 C309.33,506.00 311.33,505.33 312.00,506.00 C312.67,506.67 313.33,510.00 313.00,511.00 C312.67,512.00 310.67,512.67 310.00,512.00 C309.33,511.33 308.67,508.00 309.00,507.00 Z" fill="#8d4c22" opacity="1" />
<rect x="292.50" y="471.20" width="57.50" height="56.90" fill="#fff" stroke="none" stroke-width="1" filter="url(#nz)" opacity="0.25"/>
<rect x="292.50" y="471.20" width="57.50" height="56.90" fill="#000" stroke="none" stroke-width="1" filter="url(#nzd)" opacity="0.12"/>
</g>
<clipPath id="fc12"><rect x="116.0" y="529.9" width="57.80000000000001" height="57.200000000000045"/></clipPath>
<g clip-path="url(#fc12)">
<rect x="116.00" y="529.90" width="57.80" height="57.20" fill="#ad9fc0" stroke="none" stroke-width="1" />
<path d="M116.00,529.00 C125.33,524.67 162.93,528.00 172.00,529.00 C181.07,530.00 172.20,533.25 170.40,535.00 C168.60,536.75 163.70,538.00 161.20,539.50 C158.70,541.00 157.33,541.88 155.40,544.00 C153.47,546.12 152.10,549.87 149.60,552.20 C147.10,554.53 143.87,556.87 140.40,558.00 C136.93,559.13 132.27,559.38 128.80,559.00 C125.33,558.62 121.73,556.37 119.60,555.70 C117.47,555.03 116.60,559.45 116.00,555.00 C115.40,550.55 106.67,533.33 116.00,529.00 Z" fill="#c2bdcb" opacity="0.9" />
<ellipse cx="140" cy="572" rx="20" ry="10" fill="#a594c0" opacity="0.7" filter="url(#bl3)" transform="rotate(0,140,572)"/>
<ellipse cx="165" cy="545" rx="6" ry="10" fill="#a890c4" opacity="0.6" filter="url(#bl1)" transform="rotate(0,165,545)"/>
<rect x="116.00" y="529.90" width="57.80" height="57.20" fill="#fff" stroke="none" stroke-width="1" filter="url(#nz)" opacity="0.35"/>
<rect x="116.00" y="529.90" width="57.80" height="57.20" fill="#000" stroke="none" stroke-width="1" filter="url(#nzd)" opacity="0.28"/>
</g>
<clipPath id="fc13"><rect x="175.1" y="529.9" width="57.400000000000006" height="57.200000000000045"/></clipPath>
<g clip-path="url(#fc13)">
<rect x="175.10" y="529.90" width="57.40" height="57.20" fill="#92afd6" stroke="none" stroke-width="1" />
<ellipse cx="188" cy="538" rx="14" ry="8" fill="#c2d0e2" opacity="0.8" filter="url(#bl3)" transform="rotate(0,188,538)"/>
<path d="M175.00,551.00 C176.50,547.17 181.33,549.07 184.00,551.00 C186.67,552.93 188.27,560.67 191.00,562.60 C193.73,564.53 197.30,563.75 200.40,562.60 C203.50,561.45 206.52,558.00 209.60,555.70 C212.68,553.40 215.83,551.12 218.90,548.80 C221.97,546.48 225.98,541.43 228.00,541.80 C230.02,542.17 231.00,546.77 231.00,551.00 C231.00,555.23 230.02,563.33 228.00,567.20 C225.98,571.07 222.35,572.27 218.90,574.20 C215.45,576.13 210.78,577.67 207.30,578.80 C203.82,579.93 200.68,579.80 198.00,581.00 C195.32,582.20 194.27,585.17 191.20,586.00 C188.13,586.83 182.30,588.00 179.60,586.00 C176.90,584.00 175.77,579.83 175.00,574.00 C174.23,568.17 173.50,554.83 175.00,551.00 Z" fill="#85532a" opacity="1" />
<ellipse cx="215" cy="558" rx="8" ry="6" fill="#c09a58" opacity="0.85" filter="url(#bl1)" transform="rotate(0,215,558)"/>
<ellipse cx="205" cy="570" rx="6" ry="4" fill="#b08848" opacity="0.7" filter="url(#bl1)" transform="rotate(0,205,570)"/>
<ellipse cx="180" cy="570" rx="3" ry="10" fill="#6a3a1a" opacity="0.6" filter="url(#bl1)" transform="rotate(0,180,570)"/>
<rect x="175.10" y="529.90" width="57.40" height="57.20" fill="#fff" stroke="none" stroke-width="1" filter="url(#nz)" opacity="0.35"/>
<rect x="175.10" y="529.90" width="57.40" height="57.20" fill="#000" stroke="none" stroke-width="1" filter="url(#nzd)" opacity="0.28"/>
</g>
<clipPath id="fc14"><rect x="234.0" y="529.9" width="57.19999999999999" height="57.200000000000045"/></clipPath>
<g clip-path="url(#fc14)">
<rect x="234.00" y="529.90" width="57.20" height="57.20" fill="#b3b1c6" stroke="none" stroke-width="1" />
<path d="M234.00,530.00 C241.67,526.33 270.83,528.83 280.00,530.00 C289.17,531.17 288.83,534.83 289.00,537.00 C289.17,539.17 283.67,541.00 281.00,543.00 C278.33,545.00 275.50,546.50 273.00,549.00 C270.50,551.50 269.00,555.73 266.00,558.00 C263.00,560.27 259.17,562.10 255.00,562.60 C250.83,563.10 244.50,562.77 241.00,561.00 C237.50,559.23 235.17,557.17 234.00,552.00 C232.83,546.83 226.33,533.67 234.00,530.00 Z" fill="#c8b6a6" opacity="0.9" />
<ellipse cx="240" cy="533" rx="6" ry="4" fill="#d6e2ec" opacity="0.8" filter="url(#bl1)" transform="rotate(0,240,533)"/>
<ellipse cx="252" cy="548" rx="3" ry="3" fill="#9a6a40" opacity="0.7" filter="url(#bl1)" transform="rotate(0,252,548)"/>
<rect x="234.00" y="529.90" width="57.20" height="57.20" fill="#fff" stroke="none" stroke-width="1" filter="url(#nz)" opacity="0.35"/>
<rect x="234.00" y="529.90" width="57.20" height="57.20" fill="#000" stroke="none" stroke-width="1" filter="url(#nzd)" opacity="0.28"/>
</g>
<clipPath id="fc15"><rect x="292.5" y="529.9" width="57.5" height="57.200000000000045"/></clipPath>
<g clip-path="url(#fc15)">
<rect x="292.50" y="529.90" width="57.50" height="57.20" fill="#a9b0cc" stroke="none" stroke-width="1" />
<ellipse cx="318" cy="552" rx="12" ry="8" fill="#d4e0cc" opacity="0.85" filter="url(#bl1)" transform="rotate(0,318,552)"/>
<path d="M295.00,540.00 C296.23,537.92 299.40,537.50 301.20,538.50 C303.00,539.50 304.75,543.08 305.80,546.00 C306.85,548.92 307.90,553.17 307.50,556.00 C307.10,558.83 305.22,562.12 303.40,563.00 C301.58,563.88 298.20,563.30 296.60,561.30 C295.00,559.30 294.07,554.55 293.80,551.00 C293.53,547.45 293.77,542.08 295.00,540.00 Z" fill="#9c6c1c" opacity="1" />
<ellipse cx="325" cy="545" rx="8" ry="6" fill="#e0c3c8" opacity="0.6" filter="url(#bl1)" transform="rotate(0,325,545)"/>
<ellipse cx="313" cy="553" rx="2" ry="2" fill="#e8262e" opacity="0.9" filter="url(#bl1)" transform="rotate(0,313,553)"/>
<ellipse cx="318" cy="556" rx="1.8" ry="1.8" fill="#e8262e" opacity="0.8" filter="url(#bl1)" transform="rotate(0,318,556)"/>
<ellipse cx="324.3" cy="553.4" rx="2.5" ry="2" fill="#8a5a20" opacity="0.9" filter="url(#bl1)" transform="rotate(0,324.3,553.4)"/>
<rect x="292.50" y="529.90" width="57.50" height="57.20" fill="#fff" stroke="none" stroke-width="1" filter="url(#nz)" opacity="0.35"/>
<rect x="292.50" y="529.90" width="57.50" height="57.20" fill="#000" stroke="none" stroke-width="1" filter="url(#nzd)" opacity="0.28"/>
</g>
<line x1="151.40" y1="398.50" x2="117.00" y2="409.90" stroke="#444" stroke-width="0.55" />
<line x1="166.40" y1="398.50" x2="172.80" y2="409.90" stroke="#444" stroke-width="0.55" />
<rect x="151.40" y="383.50" width="15.00" height="15.00" fill="none" stroke="#222" stroke-width="0.9" stroke-dasharray="1,0.9"/>
<rect x="165.30" y="355.10" width="4.30" height="1.60" fill="#111" stroke="none" stroke-width="1" />
<rect x="163.40" y="414.20" width="8.20" height="1.50" fill="#f6f6f6" stroke="none" stroke-width="1" />
<rect x="163.40" y="531.80" width="8.20" height="1.50" fill="#f6f6f6" stroke="none" stroke-width="1" />
<rect x="165.30" y="473.40" width="4.30" height="1.60" fill="#111" stroke="none" stroke-width="1" />
<line x1="210.50" y1="398.50" x2="176.10" y2="409.90" stroke="#444" stroke-width="0.55" />
<line x1="225.50" y1="398.50" x2="231.50" y2="409.90" stroke="#444" stroke-width="0.55" />
<rect x="210.50" y="383.50" width="15.00" height="15.00" fill="none" stroke="#222" stroke-width="0.9" stroke-dasharray="1,0.9"/>
<rect x="224.00" y="355.10" width="4.30" height="1.60" fill="#111" stroke="none" stroke-width="1" />
<rect x="222.10" y="414.20" width="8.20" height="1.50" fill="#f6f6f6" stroke="none" stroke-width="1" />
<rect x="222.10" y="531.80" width="8.20" height="1.50" fill="#f6f6f6" stroke="none" stroke-width="1" />
<rect x="224.00" y="473.40" width="4.30" height="1.60" fill="#111" stroke="none" stroke-width="1" />
<line x1="269.40" y1="398.50" x2="235.00" y2="409.90" stroke="#444" stroke-width="0.55" />
<line x1="284.40" y1="398.50" x2="290.20" y2="409.90" stroke="#444" stroke-width="0.55" />
<rect x="269.40" y="383.50" width="15.00" height="15.00" fill="none" stroke="#222" stroke-width="0.9" stroke-dasharray="1,0.9"/>
<rect x="282.70" y="355.10" width="4.30" height="1.60" fill="#111" stroke="none" stroke-width="1" />
<rect x="280.80" y="414.20" width="8.20" height="1.50" fill="#f6f6f6" stroke="none" stroke-width="1" />
<rect x="280.80" y="531.80" width="8.20" height="1.50" fill="#f6f6f6" stroke="none" stroke-width="1" />
<rect x="282.70" y="473.40" width="4.30" height="1.60" fill="#111" stroke="none" stroke-width="1" />
<line x1="327.90" y1="398.50" x2="293.50" y2="409.90" stroke="#444" stroke-width="0.55" />
<line x1="342.90" y1="398.50" x2="349.00" y2="409.90" stroke="#444" stroke-width="0.55" />
<rect x="327.90" y="383.50" width="15.00" height="15.00" fill="none" stroke="#222" stroke-width="0.9" stroke-dasharray="1,0.9"/>
<rect x="341.50" y="355.10" width="4.30" height="1.60" fill="#111" stroke="none" stroke-width="1" />
<rect x="339.60" y="414.20" width="8.20" height="1.50" fill="#f6f6f6" stroke="none" stroke-width="1" />
<rect x="339.60" y="531.80" width="8.20" height="1.50" fill="#f6f6f6" stroke="none" stroke-width="1" />
<rect x="341.50" y="473.40" width="4.30" height="1.60" fill="#111" stroke="none" stroke-width="1" />
<line x1="132.30" y1="494.80" x2="117.00" y2="527.60" stroke="#444" stroke-width="0.55" />
<line x1="146.70" y1="494.80" x2="172.80" y2="527.60" stroke="#444" stroke-width="0.55" />
<rect x="132.30" y="479.80" width="14.40" height="15.00" fill="none" stroke="#222" stroke-width="0.9" stroke-dasharray="1,0.9"/>
<line x1="190.60" y1="495.00" x2="176.10" y2="527.60" stroke="#444" stroke-width="0.55" />
<line x1="205.10" y1="495.00" x2="231.50" y2="527.60" stroke="#444" stroke-width="0.55" />
<rect x="190.60" y="480.50" width="14.50" height="14.50" fill="none" stroke="#222" stroke-width="0.9" stroke-dasharray="1,0.9"/>
<line x1="248.60" y1="492.60" x2="235.00" y2="527.60" stroke="#444" stroke-width="0.55" />
<line x1="263.20" y1="492.60" x2="290.20" y2="527.60" stroke="#444" stroke-width="0.55" />
<rect x="248.60" y="478.10" width="14.60" height="14.50" fill="none" stroke="#222" stroke-width="0.9" stroke-dasharray="1,0.9"/>
<line x1="308.20" y1="494.20" x2="293.50" y2="527.60" stroke="#444" stroke-width="0.55" />
<line x1="322.00" y1="494.20" x2="349.00" y2="527.60" stroke="#444" stroke-width="0.55" />
<rect x="308.20" y="480.40" width="13.80" height="13.80" fill="none" stroke="#222" stroke-width="0.9" stroke-dasharray="1,0.9"/>
<path d="M132.31,419.24 C135.39,416.74 141.35,416.93 145.00,418.08 C148.66,419.24 151.93,423.66 154.23,426.16 C156.54,428.66 158.27,430.39 158.85,433.08 C159.43,435.78 158.08,439.24 157.70,442.31 C157.31,445.39 156.35,448.47 156.54,451.55 C156.73,454.62 159.23,458.47 158.85,460.78 C158.46,463.09 157.70,464.82 154.23,465.39 C150.77,465.97 142.50,465.39 138.08,464.24 C133.66,463.09 129.81,461.35 127.69,458.47 C125.58,455.59 125.58,451.16 125.39,446.93 C125.19,442.70 125.39,437.70 126.54,433.08 C127.69,428.47 129.23,421.74 132.31,419.24 Z" fill="none" stroke="#1a1a1a" stroke-width="0.9" stroke-dasharray="0.9,0.9"/>
<path d="M188.85,416.93 C191.74,414.81 198.85,414.62 202.70,415.77 C206.55,416.93 209.62,420.58 211.93,423.85 C214.24,427.12 215.58,431.54 216.55,435.39 C217.51,439.24 217.32,443.47 217.70,446.93 C218.08,450.39 219.82,453.47 218.85,456.16 C217.89,458.85 215.39,461.74 211.93,463.09 C208.47,464.43 202.31,465.39 198.08,464.24 C193.85,463.09 188.85,459.82 186.54,456.16 C184.24,452.51 184.43,446.93 184.24,442.31 C184.04,437.70 184.62,432.70 185.39,428.47 C186.16,424.24 185.97,419.04 188.85,416.93 Z" fill="none" stroke="#1a1a1a" stroke-width="0.9" stroke-dasharray="0.9,0.9"/>
<path d="M249.31,419.23 C251.42,418.08 256.04,416.35 259.69,416.92 C263.35,417.50 267.96,420.58 271.23,422.69 C274.50,424.81 277.77,426.73 279.31,429.62 C280.85,432.50 280.85,437.12 280.47,440.00 C280.08,442.89 277.58,444.23 277.00,446.93 C276.43,449.62 276.62,453.66 277.00,456.16 C277.39,458.66 279.89,460.39 279.31,461.93 C278.73,463.47 276.81,465.00 273.54,465.39 C270.27,465.77 263.54,465.20 259.69,464.23 C255.85,463.27 252.58,462.12 250.46,459.62 C248.35,457.12 247.77,453.27 247.00,449.23 C246.23,445.20 245.85,439.62 245.85,435.39 C245.85,431.16 246.42,426.54 247.00,423.85 C247.58,421.15 247.19,420.39 249.31,419.23 Z" fill="none" stroke="#1a1a1a" stroke-width="0.9" stroke-dasharray="0.9,0.9"/>
<path d="M305.85,416.92 C308.54,415.19 313.54,414.62 317.39,415.77 C321.24,416.92 326.24,420.96 328.93,423.85 C331.62,426.73 332.78,430.00 333.55,433.08 C334.32,436.16 334.12,439.62 333.55,442.31 C332.97,445.00 330.08,446.93 330.08,449.23 C330.08,451.54 333.55,454.04 333.55,456.16 C333.55,458.27 332.39,460.58 330.08,461.93 C327.78,463.27 323.35,464.43 319.70,464.23 C316.04,464.04 311.24,462.89 308.16,460.77 C305.08,458.66 302.58,455.39 301.24,451.54 C299.89,447.70 300.08,441.93 300.08,437.69 C300.08,433.46 300.27,429.62 301.24,426.16 C302.20,422.69 303.16,418.65 305.85,416.92 Z" fill="none" stroke="#1a1a1a" stroke-width="0.9" stroke-dasharray="0.9,0.9"/>
<path d="M116.00,555.00 C116.60,555.12 117.47,555.03 119.60,555.70 C121.73,556.37 125.33,558.62 128.80,559.00 C132.27,559.38 136.93,559.13 140.40,558.00 C143.87,556.87 147.10,554.53 149.60,552.20 C152.10,549.87 153.47,546.12 155.40,544.00 C157.33,541.88 158.70,541.00 161.20,539.50 C163.70,538.00 168.27,535.92 170.40,535.00 C172.53,534.08 173.40,534.17 174.00,534.00 " fill="none" stroke="#1a1a1a" stroke-width="0.9" stroke-dasharray="0.9,0.9"/>
<path d="M117.00,585.00 C118.20,584.73 121.45,584.23 124.20,583.40 C126.95,582.57 130.03,581.15 133.50,580.00 C136.97,578.85 141.55,577.67 145.00,576.50 C148.45,575.33 151.12,574.55 154.20,573.00 C157.28,571.45 160.62,569.32 163.50,567.20 C166.38,565.08 169.75,561.83 171.50,560.30 C173.25,558.77 173.58,558.38 174.00,558.00 " fill="none" stroke="#1a1a1a" stroke-width="0.9" stroke-dasharray="0.9,0.9"/>
<path d="M176.00,551.50 C177.37,551.50 181.67,549.65 184.20,551.50 C186.73,553.35 188.50,560.75 191.20,562.60 C193.90,564.45 197.33,563.75 200.40,562.60 C203.47,561.45 206.52,558.00 209.60,555.70 C212.68,553.40 215.83,551.12 218.90,548.80 C221.97,546.48 225.82,543.27 228.00,541.80 C230.18,540.33 231.33,540.30 232.00,540.00 " fill="none" stroke="#1a1a1a" stroke-width="0.9" stroke-dasharray="0.9,0.9"/>
<path d="M191.20,586.00 C192.33,585.17 195.32,582.20 198.00,581.00 C200.68,579.80 203.82,579.93 207.30,578.80 C210.78,577.67 215.45,576.13 218.90,574.20 C222.35,572.27 225.82,568.90 228.00,567.20 C230.18,565.50 231.33,564.53 232.00,564.00 " fill="none" stroke="#1a1a1a" stroke-width="0.9" stroke-dasharray="0.9,0.9"/>
<path d="M236.60,551.00 C237.37,552.75 238.13,559.57 241.20,561.50 C244.27,563.43 250.77,563.18 255.00,562.60 C259.23,562.02 263.52,560.30 266.60,558.00 C269.68,555.70 271.18,551.30 273.50,548.80 C275.82,546.30 278.00,544.73 280.50,543.00 C283.00,541.27 286.75,539.32 288.50,538.40 C290.25,537.48 290.58,537.65 291.00,537.50 " fill="none" stroke="#1a1a1a" stroke-width="0.9" stroke-dasharray="0.9,0.9"/>
<path d="M236.00,566.00 C236.48,566.58 237.27,566.60 238.90,569.50 C240.53,572.40 242.33,581.28 245.80,583.40 C249.27,585.52 255.08,583.73 259.70,582.20 C264.32,580.67 268.70,576.70 273.50,574.20 C278.30,571.70 285.58,568.57 288.50,567.20 C291.42,565.83 290.58,566.20 291.00,566.00 " fill="none" stroke="#1a1a1a" stroke-width="0.9" stroke-dasharray="0.9,0.9"/>
<path d="M301.20,562.60 C303.50,562.60 311.15,563.75 315.00,562.60 C318.85,561.45 321.22,558.38 324.30,555.70 C327.38,553.02 330.05,549.20 333.50,546.50 C336.95,543.80 342.25,540.92 345.00,539.50 C347.75,538.08 349.17,538.25 350.00,538.00 " fill="none" stroke="#1a1a1a" stroke-width="0.9" stroke-dasharray="0.9,0.9"/>
<path d="M296.60,581.00 C297.17,581.50 298.07,583.08 300.00,584.00 C301.93,584.92 306.83,586.08 308.20,586.50 " fill="none" stroke="#1a1a1a" stroke-width="0.9" stroke-dasharray="0.9,0.9"/>
<path d="M312.80,586.50 C313.67,585.98 315.30,585.07 318.00,583.40 C320.70,581.73 325.25,578.82 329.00,576.50 C332.75,574.18 337.43,571.82 340.50,569.50 C343.57,567.18 345.82,564.18 347.40,562.60 C348.98,561.02 349.57,560.43 350.00,560.00 " fill="none" stroke="#1a1a1a" stroke-width="0.9" stroke-dasharray="0.9,0.9"/>
<rect x="116.60" y="353.50" width="56.60" height="56.30" fill="none" stroke="#353535" stroke-width="1.3" />
<rect x="116.60" y="412.90" width="56.60" height="55.50" fill="none" stroke="#353535" stroke-width="1.3" />
<rect x="116.60" y="471.80" width="56.60" height="55.70" fill="none" stroke="#353535" stroke-width="1.3" />
<rect x="116.60" y="530.50" width="56.60" height="56.00" fill="none" stroke="#353535" stroke-width="1.3" />
<rect x="175.70" y="353.50" width="56.20" height="56.30" fill="none" stroke="#353535" stroke-width="1.3" />
<rect x="175.70" y="412.90" width="56.20" height="55.50" fill="none" stroke="#353535" stroke-width="1.3" />
<rect x="175.70" y="471.80" width="56.20" height="55.70" fill="none" stroke="#353535" stroke-width="1.3" />
<rect x="175.70" y="530.50" width="56.20" height="56.00" fill="none" stroke="#353535" stroke-width="1.3" />
<rect x="234.60" y="353.50" width="56.00" height="56.30" fill="none" stroke="#353535" stroke-width="1.3" />
<rect x="234.60" y="412.90" width="56.00" height="55.50" fill="none" stroke="#353535" stroke-width="1.3" />
<rect x="234.60" y="471.80" width="56.00" height="55.70" fill="none" stroke="#353535" stroke-width="1.3" />
<rect x="234.60" y="530.50" width="56.00" height="56.00" fill="none" stroke="#353535" stroke-width="1.3" />
<rect x="293.10" y="353.50" width="56.30" height="56.30" fill="none" stroke="#353535" stroke-width="1.3" />
<rect x="293.10" y="412.90" width="56.30" height="55.50" fill="none" stroke="#353535" stroke-width="1.3" />
<rect x="293.10" y="471.80" width="56.30" height="55.70" fill="none" stroke="#353535" stroke-width="1.3" />
<rect x="293.10" y="530.50" width="56.30" height="56.00" fill="none" stroke="#353535" stroke-width="1.3" />
<text x="129.50" y="435.90" font-size="8.7" text-anchor="start" fill="#f4f0f6" stroke="#f4f0f6" stroke-width="0.22" opacity="0.8">Tumor</text>
<text x="124.70" y="569.40" font-size="7.4" text-anchor="start" fill="#f0ecf4" stroke="#f0ecf4" stroke-width="0.22" opacity="0.8">Tumor</text>
<g font-family="Liberation Sans, Arial, sans-serif">
<text x="318.3" y="420.6" font-size="7.0" font-weight="bold" fill="#e8262e" stroke="#f4dede" stroke-width="0.8" paint-order="stroke">Platelets</text>
<text x="302.4" y="541.8" font-size="7.4" font-weight="bold" fill="#e8262e" stroke="#f4e4e4" stroke-width="0.9" paint-order="stroke">Platelets</text>
</g>
<path d="M344.00,433.00 L339.61,431.59 L343.01,428.49 Z" fill="#e8262e"/>
<line x1="341.31" y1="430.04" x2="338.28" y2="426.71" stroke="#e8262e" stroke-width="1.4" />
<path d="M344.50,455.50 L340.24,453.73 L343.88,450.93 Z" fill="#e8262e"/>
<line x1="342.06" y1="452.33" x2="339.32" y2="448.76" stroke="#e8262e" stroke-width="1.4" />
<path d="M312.00,550.50 L308.47,548.35 L312.40,546.39 Z" fill="#e8262e"/>
<line x1="310.43" y1="547.37" x2="309.09" y2="544.69" stroke="#e8262e" stroke-width="1.4" />
<path d="M317.00,550.50 L316.60,546.39 L320.53,548.35 Z" fill="#e8262e"/>
<line x1="318.57" y1="547.37" x2="319.91" y2="544.69" stroke="#e8262e" stroke-width="1.4" />
</svg>
</body></html>
